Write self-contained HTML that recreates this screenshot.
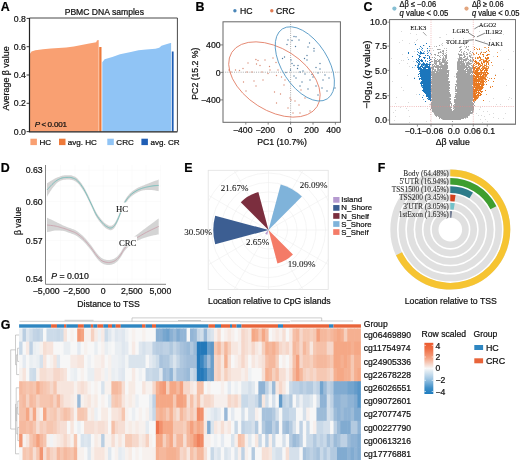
<!DOCTYPE html>
<html><head><meta charset="utf-8"><title>Figure</title>
<style>html,body{margin:0;padding:0;background:#fff;overflow:hidden}svg{display:block}text{stroke:#111;stroke-width:0.22px}</style></head>
<body><svg width="520" height="460" viewBox="0 0 520 460">
<defs><clipPath id="clipA"><rect x="0" y="0" width="180" height="160"/></clipPath><clipPath id="clipC"><rect x="389.6" y="19.6" width="125.9" height="104.6"/></clipPath></defs>
<rect width="520" height="460" fill="#fff"/>
<text x="0.70" y="10.80" font-size="12.4" text-anchor="start" font-family="'Liberation Sans', Arial, sans-serif" fill="#000" font-weight="bold" >A</text>
<g clip-path="url(#clipA)">
<text x="104.30" y="15.20" font-size="8.6" text-anchor="middle" font-family="'Liberation Sans', Arial, sans-serif" fill="#111" font-weight="normal" >PBMC DNA samples</text>
<polygon points="29.50,131.60 29.50,54.50 30.00,53.80 31.50,51.50 35.40,50.30 43.00,49.20 50.80,48.50 66.20,47.40 73.80,46.60 81.50,44.90 89.20,43.50 96.20,42.30 96.90,40.50 98.20,40.00 98.70,40.30 98.70,131.60" fill="#F9A072" />
<rect x="99.2" y="47" width="2.3" height="84.6" fill="#EE7A3A"/>
<polygon points="102.30,131.60 102.30,62.30 104.60,59.20 112.30,56.90 120.00,54.30 130.80,52.00 138.50,50.30 146.20,49.50 155.40,48.80 159.20,47.70 161.50,45.80 166.20,44.20 170.50,43.10 171.10,43.10 171.10,131.60" fill="#90C4F5" />
<rect x="171.8" y="51.5" width="1.8" height="80.1" fill="#1F5EB5"/>
<path d="M29.5,18.0 H177.4 V131.6" fill="none" stroke="#333" stroke-width="0.9"/>
<path d="M29.5,18.0 V131.9 H177.4" fill="none" stroke="#222" stroke-width="1.2"/>
<line x1="26.6" y1="131.60" x2="29.5" y2="131.60" stroke="#222" stroke-width="0.9"/>
<text x="25.90" y="134.70" font-size="8.7" text-anchor="end" font-family="'Liberation Sans', Arial, sans-serif" fill="#111" font-weight="normal" >0.0</text>
<line x1="26.6" y1="103.30" x2="29.5" y2="103.30" stroke="#222" stroke-width="0.9"/>
<text x="25.90" y="106.40" font-size="8.7" text-anchor="end" font-family="'Liberation Sans', Arial, sans-serif" fill="#111" font-weight="normal" >0.2</text>
<line x1="26.6" y1="75.00" x2="29.5" y2="75.00" stroke="#222" stroke-width="0.9"/>
<text x="25.90" y="78.10" font-size="8.7" text-anchor="end" font-family="'Liberation Sans', Arial, sans-serif" fill="#111" font-weight="normal" >0.4</text>
<line x1="26.6" y1="46.70" x2="29.5" y2="46.70" stroke="#222" stroke-width="0.9"/>
<text x="25.90" y="49.80" font-size="8.7" text-anchor="end" font-family="'Liberation Sans', Arial, sans-serif" fill="#111" font-weight="normal" >0.6</text>
<line x1="26.6" y1="18.40" x2="29.5" y2="18.40" stroke="#222" stroke-width="0.9"/>
<text x="25.90" y="21.50" font-size="8.7" text-anchor="end" font-family="'Liberation Sans', Arial, sans-serif" fill="#111" font-weight="normal" >0.8</text>
<text transform="translate(9.3,78.5) rotate(-90)" font-size="8.9" text-anchor="middle" font-family="'Liberation Sans', Arial, sans-serif" fill="#111">Average β value</text>
<text x="34.7" y="127.2" font-size="8.1" font-family="'Liberation Sans', Arial, sans-serif" fill="#111" letter-spacing="-0.15"><tspan font-style="italic">P</tspan>&#8201;&lt;&#8201;0.001</text>
<rect x="30.4" y="138.7" width="6.5" height="6.4" fill="#F9A072"/>
<text x="39.40" y="144.60" font-size="8.1" text-anchor="start" font-family="'Liberation Sans', Arial, sans-serif" fill="#111" font-weight="normal" >HC</text>
<rect x="59" y="138.7" width="6.5" height="6.4" fill="#EE7A3A"/>
<text x="67.70" y="144.60" font-size="8.1" text-anchor="start" font-family="'Liberation Sans', Arial, sans-serif" fill="#111" font-weight="normal" >avg. HC</text>
<rect x="107.3" y="138.7" width="6.5" height="6.4" fill="#90C4F5"/>
<text x="116.30" y="144.60" font-size="8.1" text-anchor="start" font-family="'Liberation Sans', Arial, sans-serif" fill="#111" font-weight="normal" >CRC</text>
<rect x="141.4" y="138.7" width="6.5" height="6.4" fill="#1F5EB5"/>
<text x="150.40" y="144.60" font-size="8.1" text-anchor="start" font-family="'Liberation Sans', Arial, sans-serif" fill="#111" font-weight="normal" >avg. CRC</text>
</g>
<text x="195.50" y="10.80" font-size="12.4" text-anchor="start" font-family="'Liberation Sans', Arial, sans-serif" fill="#000" font-weight="bold" >B</text>
<circle cx="234.9" cy="10.8" r="1.7" fill="#4A86B8"/>
<text x="240.00" y="13.90" font-size="8.7" text-anchor="start" font-family="'Liberation Sans', Arial, sans-serif" fill="#111" font-weight="normal" >HC</text>
<circle cx="271.8" cy="10.8" r="1.7" fill="#E07B54"/>
<text x="276.00" y="13.90" font-size="8.7" text-anchor="start" font-family="'Liberation Sans', Arial, sans-serif" fill="#111" font-weight="normal" >CRC</text>
<rect x="223.0" y="21.8" width="117.39999999999998" height="100.5" fill="#fff" stroke="#666" stroke-width="1"/>
<line x1="223.0" y1="72.2" x2="340.4" y2="72.2" stroke="#888" stroke-width="0.7" stroke-dasharray="1,1.2"/>
<line x1="290.6" y1="21.8" x2="290.6" y2="122.3" stroke="#888" stroke-width="0.7" stroke-dasharray="1,1.2"/>
<circle cx="294" cy="36.5" r="0.7" fill="#4F7A9E"/>
<circle cx="296" cy="36.7" r="0.7" fill="#4F7A9E"/>
<circle cx="299" cy="40" r="0.7" fill="#4F7A9E"/>
<circle cx="292" cy="40.5" r="0.7" fill="#4F7A9E"/>
<circle cx="288" cy="40" r="0.7" fill="#4F7A9E"/>
<circle cx="287" cy="44.5" r="0.7" fill="#4F7A9E"/>
<circle cx="295.5" cy="46.5" r="0.7" fill="#4F7A9E"/>
<circle cx="309.5" cy="43" r="0.7" fill="#4F7A9E"/>
<circle cx="308" cy="47" r="0.7" fill="#4F7A9E"/>
<circle cx="314" cy="48.5" r="0.7" fill="#4F7A9E"/>
<circle cx="314" cy="51" r="0.7" fill="#4F7A9E"/>
<circle cx="307" cy="55.5" r="0.7" fill="#4F7A9E"/>
<circle cx="304.5" cy="58.5" r="0.7" fill="#4F7A9E"/>
<circle cx="307" cy="60" r="0.7" fill="#4F7A9E"/>
<circle cx="291" cy="60" r="0.7" fill="#4F7A9E"/>
<circle cx="292" cy="63.5" r="0.7" fill="#4F7A9E"/>
<circle cx="284.5" cy="57" r="0.7" fill="#4F7A9E"/>
<circle cx="282.5" cy="58.5" r="0.7" fill="#4F7A9E"/>
<circle cx="294" cy="65.5" r="0.7" fill="#4F7A9E"/>
<circle cx="298" cy="65.5" r="0.7" fill="#4F7A9E"/>
<circle cx="297.5" cy="68.5" r="0.7" fill="#4F7A9E"/>
<circle cx="320" cy="63.5" r="0.7" fill="#4F7A9E"/>
<circle cx="316" cy="67.5" r="0.7" fill="#4F7A9E"/>
<circle cx="300" cy="72" r="0.7" fill="#4F7A9E"/>
<circle cx="305" cy="74" r="0.7" fill="#4F7A9E"/>
<circle cx="312" cy="74.5" r="0.7" fill="#4F7A9E"/>
<circle cx="318" cy="73" r="0.7" fill="#4F7A9E"/>
<circle cx="325" cy="75" r="0.7" fill="#4F7A9E"/>
<circle cx="329" cy="78" r="0.7" fill="#4F7A9E"/>
<circle cx="323" cy="80" r="0.7" fill="#4F7A9E"/>
<circle cx="310" cy="80" r="0.7" fill="#4F7A9E"/>
<circle cx="302" cy="82" r="0.7" fill="#4F7A9E"/>
<circle cx="296" cy="78" r="0.7" fill="#4F7A9E"/>
<circle cx="294" cy="76" r="0.7" fill="#4F7A9E"/>
<circle cx="316" cy="86" r="0.7" fill="#4F7A9E"/>
<circle cx="322" cy="88" r="0.7" fill="#4F7A9E"/>
<circle cx="327" cy="91" r="0.7" fill="#4F7A9E"/>
<circle cx="335" cy="88" r="0.7" fill="#4F7A9E"/>
<circle cx="308" cy="89" r="0.7" fill="#4F7A9E"/>
<circle cx="290.5" cy="70" r="0.7" fill="#4F7A9E"/>
<circle cx="286" cy="72.5" r="0.7" fill="#4F7A9E"/>
<circle cx="300" cy="86" r="0.7" fill="#4F7A9E"/>
<circle cx="318" cy="95" r="0.7" fill="#4F7A9E"/>
<circle cx="313" cy="77" r="0.7" fill="#4F7A9E"/>
<circle cx="320" cy="69" r="0.7" fill="#4F7A9E"/>
<circle cx="303" cy="71" r="0.7" fill="#4F7A9E"/>
<circle cx="255.9" cy="59.5" r="0.7" fill="#D98A74"/>
<circle cx="258" cy="60.5" r="0.7" fill="#D98A74"/>
<circle cx="248" cy="63" r="0.7" fill="#D98A74"/>
<circle cx="256.5" cy="64" r="0.7" fill="#D98A74"/>
<circle cx="260" cy="65.5" r="0.7" fill="#D98A74"/>
<circle cx="243" cy="68.5" r="0.7" fill="#D98A74"/>
<circle cx="235.5" cy="70" r="0.7" fill="#D98A74"/>
<circle cx="239.5" cy="70.5" r="0.7" fill="#D98A74"/>
<circle cx="269.5" cy="66.5" r="0.7" fill="#D98A74"/>
<circle cx="270" cy="70" r="0.7" fill="#D98A74"/>
<circle cx="276" cy="62.5" r="0.7" fill="#D98A74"/>
<circle cx="243.5" cy="82" r="0.7" fill="#D98A74"/>
<circle cx="254" cy="81" r="0.7" fill="#D98A74"/>
<circle cx="263" cy="80" r="0.7" fill="#D98A74"/>
<circle cx="256" cy="86" r="0.7" fill="#D98A74"/>
<circle cx="246" cy="91" r="0.7" fill="#D98A74"/>
<circle cx="274.5" cy="92" r="0.7" fill="#D98A74"/>
<circle cx="280.5" cy="94" r="0.7" fill="#D98A74"/>
<circle cx="276.5" cy="103" r="0.7" fill="#D98A74"/>
<circle cx="268" cy="73.5" r="0.7" fill="#D98A74"/>
<circle cx="276.5" cy="75.5" r="0.7" fill="#D98A74"/>
<circle cx="281.5" cy="77" r="0.7" fill="#D98A74"/>
<circle cx="290" cy="98" r="0.7" fill="#D98A74"/>
<circle cx="291" cy="100" r="0.7" fill="#D98A74"/>
<circle cx="295" cy="101" r="0.7" fill="#D98A74"/>
<circle cx="299" cy="105" r="0.7" fill="#D98A74"/>
<circle cx="300" cy="113" r="0.7" fill="#D98A74"/>
<circle cx="293" cy="113" r="0.7" fill="#D98A74"/>
<circle cx="310" cy="111" r="0.7" fill="#D98A74"/>
<circle cx="288" cy="108" r="0.7" fill="#D98A74"/>
<circle cx="305" cy="98" r="0.7" fill="#D98A74"/>
<circle cx="284" cy="85" r="0.7" fill="#D98A74"/>
<circle cx="285" cy="80" r="0.7" fill="#D98A74"/>
<circle cx="262" cy="72" r="0.7" fill="#D98A74"/>
<circle cx="252" cy="72" r="0.7" fill="#D98A74"/>
<circle cx="247" cy="72" r="0.7" fill="#D98A74"/>
<circle cx="231" cy="72" r="0.7" fill="#D98A74"/>
<circle cx="229" cy="70" r="0.7" fill="#D98A74"/>
<circle cx="278" cy="70" r="0.7" fill="#D98A74"/>
<circle cx="273" cy="58" r="0.7" fill="#D98A74"/>
<circle cx="265" cy="60" r="0.7" fill="#D98A74"/>
<circle cx="301" cy="90" r="0.7" fill="#D98A74"/>
<ellipse cx="274.43" cy="79.48" rx="50.52" ry="30.95" transform="rotate(32.48 274.43 79.48)" fill="none" stroke="#E27B62" stroke-width="0.8"/>
<ellipse cx="304.82" cy="63.89" rx="41.56" ry="22.99" transform="rotate(57.35 304.82 63.89)" fill="none" stroke="#4D94C2" stroke-width="0.8"/>
<line x1="245.80" y1="122.3" x2="245.80" y2="124.6" stroke="#666" stroke-width="0.8"/>
<text x="242.70" y="133.40" font-size="8.7" text-anchor="middle" font-family="'Liberation Sans', Arial, sans-serif" fill="#111" font-weight="normal" >−400</text>
<line x1="268.20" y1="122.3" x2="268.20" y2="124.6" stroke="#666" stroke-width="0.8"/>
<text x="265.20" y="133.40" font-size="8.7" text-anchor="middle" font-family="'Liberation Sans', Arial, sans-serif" fill="#111" font-weight="normal" >−200</text>
<line x1="290.60" y1="122.3" x2="290.60" y2="124.6" stroke="#666" stroke-width="0.8"/>
<text x="289.90" y="133.40" font-size="8.7" text-anchor="middle" font-family="'Liberation Sans', Arial, sans-serif" fill="#111" font-weight="normal" >0</text>
<line x1="313.00" y1="122.3" x2="313.00" y2="124.6" stroke="#666" stroke-width="0.8"/>
<text x="311.60" y="133.40" font-size="8.7" text-anchor="middle" font-family="'Liberation Sans', Arial, sans-serif" fill="#111" font-weight="normal" >200</text>
<line x1="335.40" y1="122.3" x2="335.40" y2="124.6" stroke="#666" stroke-width="0.8"/>
<text x="333.50" y="133.40" font-size="8.7" text-anchor="middle" font-family="'Liberation Sans', Arial, sans-serif" fill="#111" font-weight="normal" >400</text>
<line x1="220.7" y1="99.90" x2="223.0" y2="99.90" stroke="#666" stroke-width="0.8"/>
<text x="220.60" y="103.00" font-size="8.7" text-anchor="end" font-family="'Liberation Sans', Arial, sans-serif" fill="#111" font-weight="normal" >−400</text>
<line x1="220.7" y1="72.40" x2="223.0" y2="72.40" stroke="#666" stroke-width="0.8"/>
<text x="220.60" y="75.50" font-size="8.7" text-anchor="end" font-family="'Liberation Sans', Arial, sans-serif" fill="#111" font-weight="normal" >0</text>
<line x1="220.7" y1="44.90" x2="223.0" y2="44.90" stroke="#666" stroke-width="0.8"/>
<text x="220.60" y="48.00" font-size="8.7" text-anchor="end" font-family="'Liberation Sans', Arial, sans-serif" fill="#111" font-weight="normal" >400</text>
<text x="282.00" y="145.30" font-size="8.7" text-anchor="middle" font-family="'Liberation Sans', Arial, sans-serif" fill="#111" font-weight="normal" >PC1 (10.7%)</text>
<text transform="translate(198.4,73.6) rotate(-90)" font-size="8.7" text-anchor="middle" font-family="'Liberation Sans', Arial, sans-serif" fill="#111">PC2 (15.2 %)</text>
<text x="363.50" y="10.80" font-size="12.4" text-anchor="start" font-family="'Liberation Sans', Arial, sans-serif" fill="#000" font-weight="bold" >C</text>
<circle cx="394.4" cy="8.6" r="2.1" fill="#86BFD3"/>
<text x="399.6" y="6.9" font-size="8.3" font-family="'Liberation Sans', Arial, sans-serif" fill="#111" textLength="36.6" lengthAdjust="spacingAndGlyphs">Δβ ≤ −0.06</text>
<text x="399.6" y="15.6" font-size="8.3" font-family="'Liberation Sans', Arial, sans-serif" fill="#111" textLength="48.7" lengthAdjust="spacingAndGlyphs"><tspan font-style="italic">q</tspan> value &lt; 0.05</text>
<circle cx="466.5" cy="8.6" r="2.1" fill="#E2A57E"/>
<text x="471.9" y="6.9" font-size="8.3" font-family="'Liberation Sans', Arial, sans-serif" fill="#111" textLength="31.6" lengthAdjust="spacingAndGlyphs">Δβ ≥ 0.06</text>
<text x="471.9" y="15.6" font-size="8.3" font-family="'Liberation Sans', Arial, sans-serif" fill="#111" textLength="47.5" lengthAdjust="spacingAndGlyphs"><tspan font-style="italic">q</tspan> value &lt; 0.05</text>
<rect x="389.6" y="19.6" width="125.89999999999998" height="104.6" fill="#fff" stroke="#777" stroke-width="0.9"/>
<g clip-path="url(#clipC)">
<path d="M401 31.5h1M479 31.5h1M501 31.5h1M410 33.5h1M416 34.5h1M446 34.5h1M503 34.5h1M439 37.5h2M473 37.5h1M453 38.5h1M463 38.5h1M417 39.5h1M490 39.5h1M402 40.5h1M416 40.5h1M460 40.5h1M450 41.5h1M484 41.5h1M399 42.5h1M414 42.5h1M409 43.5h1M441 44.5h1M424 45.5h1M429 48.5h2M432 48.5h1M486 48.5h1M481 49.5h1M500 50.5h1M414 51.5h1M429 51.5h1M481 51.5h1M513 51.5h1M480 52.5h1M402 54.5h1M493 56.5h1M407 57.5h1M391 58.5h1M457 58.5h1M508 59.5h1M401 60.5h1M403 60.5h1M413 61.5h1M479 61.5h1M416 62.5h1M399 63.5h1M407 63.5h1M484 63.5h1M489 65.5h1M409 66.5h1M477 66.5h1M414 67.5h1M503 69.5h1M449 70.5h1M495 74.5h1M407 75.5h1M454 76.5h1M414 77.5h1M392 81.5h1M506 85.5h1M401 87.5h1M403 90.5h1M416 94.5h1M455 94.5h1M396 97.5h1M509 97.5h1M493 98.5h1M511 98.5h1M508 99.5h1M489 101.5h1M408 102.5h1M395 103.5h1M429 104.5h1M496 104.5h1M500 104.5h1M420 106.5h1M400 107.5h1M480 107.5h1M406 108.5h1M427 108.5h1M479 109.5h1M395 110.5h1M408 110.5h1M483 111.5h1M487 111.5h1M393 112.5h1M476 113.5h1M493 113.5h1M505 113.5h1M430 114.5h1M489 114.5h1M478 115.5h1M481 115.5h1M395 116.5h1M409 116.5h1M484 116.5h1M493 117.5h1M498 118.5h1M503 118.5h1M480 119.5h1M485 119.5h1M394 120.5h1M430 120.5h1M426 121.5h1M487 121.5h1M409 122.5h1M482 122.5h1M406 123.5h1M473 123.5h1M483 123.5h1" stroke="#DADADA" stroke-width="1" fill="none"/>
<path d="M442 43.5h1M442 45.5h1M434 46.5h1M460 46.5h2M464 46.5h1M444 48.5h1M446 48.5h1M465 48.5h1M440 49.5h1M460 49.5h1M468 49.5h1M433 50.5h1M442 50.5h1M468 50.5h1M461 51.5h1M439 52.5h1M441 52.5h1M443 52.5h1M446 52.5h1M463 52.5h1M469 52.5h1M445 53.5h1M458 53.5h1M464 53.5h1M467 53.5h1M469 53.5h2M464 54.5h1M471 54.5h1M435 55.5h1M440 55.5h1M462 55.5h1M470 55.5h2M443 56.5h1M467 56.5h1M471 57.5h1M442 58.5h1M444 58.5h2M458 58.5h1M462 58.5h1M465 58.5h1M444 59.5h1M462 59.5h1M467 59.5h1M472 59.5h1M471 60.5h2M440 61.5h1M445 61.5h1M457 61.5h1M465 61.5h1M471 61.5h1M435 62.5h1M440 62.5h1M462 62.5h1M465 62.5h2M469 62.5h1M472 62.5h1M444 63.5h1M436 64.5h1M442 64.5h1M460 64.5h1M468 64.5h1M470 64.5h1M440 65.5h1M465 65.5h1M472 65.5h1M432 66.5h1M471 67.5h1M431 68.5h1M434 69.5h1M431 71.5h1M438 71.5h1M457 71.5h1M431 73.5h1M456 75.5h1M448 79.5h1M431 80.5h1M456 80.5h1M456 82.5h1M456 86.5h1M431 87.5h1M455 90.5h1M431 92.5h1M431 93.5h1M449 97.5h1M430 104.5h1M454 105.5h1M450 106.5h1M453 106.5h1M453 107.5h1M454 108.5h1M473 110.5h1M473 111.5h1M433 112.5h1M472 113.5h1M434 114.5h1M469 115.5h1M466 117.5h1M465 118.5h1M442 119.5h1" stroke="#C4C4C4" stroke-width="1" fill="none"/>
<path d="M446 42.5h1M461 43.5h1M463 43.5h1M464 44.5h1M439 45.5h1M436 46.5h1M466 46.5h1M468 46.5h1M459 47.5h2M466 47.5h1M437 49.5h3M461 49.5h1M467 49.5h1M443 50.5h1M446 50.5h1M460 50.5h1M440 51.5h1M442 51.5h2M459 51.5h1M464 51.5h1M470 51.5h1M438 52.5h1M440 52.5h1M461 52.5h1M466 52.5h1M472 52.5h1M438 53.5h1M442 53.5h2M463 53.5h1M431 54.5h1M434 54.5h2M443 54.5h1M446 54.5h1M458 54.5h4M463 54.5h1M466 54.5h2M437 55.5h2M442 55.5h1M444 55.5h3M459 55.5h3M464 55.5h1M469 55.5h1M439 56.5h1M445 56.5h2M459 56.5h1M464 56.5h2M469 56.5h2M432 57.5h1M434 57.5h1M440 57.5h1M443 57.5h1M445 57.5h2M459 57.5h3M463 57.5h2M467 57.5h1M470 57.5h1M472 57.5h1M435 58.5h1M443 58.5h1M446 58.5h1M459 58.5h3M466 58.5h2M472 58.5h1M431 59.5h1M434 59.5h1M437 59.5h1M439 59.5h2M442 59.5h2M445 59.5h1M458 59.5h4M463 59.5h4M468 59.5h1M470 59.5h1M434 60.5h3M438 60.5h2M442 60.5h4M447 60.5h1M458 60.5h2M461 60.5h1M463 60.5h4M469 60.5h2M431 61.5h2M434 61.5h6M442 61.5h3M446 61.5h1M458 61.5h6M468 61.5h1M470 61.5h1M472 61.5h1M434 62.5h1M436 62.5h1M439 62.5h1M441 62.5h7M457 62.5h5M463 62.5h1M467 62.5h2M434 63.5h3M439 63.5h3M445 63.5h3M457 63.5h8M466 63.5h6M432 64.5h2M435 64.5h1M439 64.5h3M444 64.5h3M457 64.5h3M461 64.5h4M466 64.5h2M469 64.5h1M432 65.5h1M434 65.5h1M436 65.5h3M441 65.5h7M457 65.5h8M466 65.5h3M471 65.5h1M433 66.5h15M457 66.5h10M468 66.5h2M472 66.5h1M431 67.5h3M435 67.5h13M457 67.5h14M472 67.5h1M432 68.5h2M437 68.5h2M440 68.5h1M442 68.5h6M457 68.5h8M466 68.5h2M469 68.5h4M432 69.5h2M435 69.5h1M437 69.5h10M457 69.5h7M465 69.5h7M432 70.5h1M434 70.5h2M437 70.5h12M458 70.5h8M467 70.5h5M432 71.5h6M439 71.5h10M458 71.5h15M431 72.5h4M436 72.5h13M457 72.5h9M467 72.5h6M432 73.5h15M448 73.5h1M456 73.5h15M472 73.5h1M431 74.5h18M456 74.5h14M471 74.5h1M431 75.5h18M457 75.5h16M432 76.5h17M456 76.5h17M431 77.5h17M456 77.5h17M432 78.5h17M457 78.5h16M431 79.5h17M457 79.5h16M432 80.5h16M457 80.5h16M431 81.5h19M456 81.5h17M431 82.5h19M457 82.5h16M431 83.5h18M457 83.5h16M432 84.5h18M455 84.5h18M431 85.5h19M456 85.5h16M431 86.5h18M455 86.5h1M457 86.5h16M432 87.5h18M455 87.5h1M457 87.5h16M431 88.5h19M455 88.5h1M457 88.5h16M431 89.5h18M455 89.5h18M431 90.5h19M456 90.5h17M431 91.5h18M455 91.5h18M432 92.5h18M457 92.5h16M432 93.5h18M455 93.5h18M431 94.5h20M456 94.5h17M431 95.5h20M455 95.5h18M431 96.5h20M455 96.5h18M431 97.5h18M454 97.5h19M432 98.5h19M456 98.5h17M431 99.5h20M454 99.5h19M431 100.5h19M454 100.5h19M432 101.5h19M454 101.5h18M474 101.5h1M431 102.5h20M454 102.5h19M474 102.5h1M431 103.5h21M455 103.5h19M431 104.5h19M451 104.5h1M454 104.5h20M431 105.5h19M451 105.5h1M453 105.5h1M455 105.5h18M474 105.5h1M431 106.5h19M454 106.5h20M431 107.5h21M454 107.5h20M431 108.5h20M453 108.5h1M455 108.5h19M430 109.5h1M432 109.5h20M454 109.5h20M432 110.5h20M453 110.5h20M432 111.5h39M472 111.5h1M434 112.5h39M434 113.5h38M435 114.5h35M435 115.5h34M436 116.5h1M438 116.5h30M439 117.5h27M467 117.5h1M439 118.5h1M441 118.5h23M443 119.5h18M452 121.5h1" stroke="#A2A2A2" stroke-width="1" fill="none"/>
<path d="M421 47.5h1M419 48.5h1M421 49.5h1M422 50.5h1M427 50.5h1M417 51.5h1M424 51.5h1M427 51.5h1M423 52.5h1M428 52.5h1M419 53.5h1M424 53.5h1M430 53.5h1M420 54.5h1M418 55.5h1M428 55.5h1M425 57.5h1M408 59.5h1M418 59.5h1M425 61.5h1M429 62.5h1M419 63.5h2M422 63.5h1M427 63.5h1M429 63.5h1M417 65.5h1M422 65.5h1M424 65.5h1M417 66.5h1M424 66.5h1M412 67.5h1M430 67.5h1M419 69.5h1M420 82.5h1M421 86.5h2M419 94.5h1M423 95.5h1M428 98.5h1M423 99.5h1" stroke="#6FAEDB" stroke-width="1" fill="none"/>
<path d="M426 43.5h1M415 44.5h1M423 45.5h1M420 46.5h1M429 46.5h1M422 48.5h1M427 48.5h1M417 49.5h1M429 50.5h1M420 51.5h1M408 52.5h1M418 52.5h1M420 52.5h2M408 53.5h1M420 53.5h4M427 53.5h1M417 54.5h1M419 55.5h1M425 55.5h1M427 55.5h1M412 56.5h1M419 56.5h2M429 56.5h1M419 57.5h1M423 57.5h2M429 57.5h1M418 58.5h1M424 58.5h1M427 58.5h1M429 58.5h1M416 59.5h1M419 59.5h1M421 59.5h1M430 59.5h1M417 60.5h2M420 60.5h3M425 60.5h1M429 60.5h1M416 61.5h1M418 61.5h2M421 61.5h2M427 61.5h1M417 62.5h1M419 62.5h1M423 62.5h1M430 62.5h1M418 63.5h1M423 63.5h2M426 63.5h1M418 64.5h2M421 64.5h10M415 65.5h1M418 65.5h1M421 65.5h1M423 65.5h1M425 65.5h3M429 65.5h1M418 66.5h1M420 66.5h3M425 66.5h5M417 67.5h4M422 67.5h8M418 68.5h4M423 68.5h3M428 68.5h3M418 69.5h1M420 69.5h11M420 70.5h11M419 71.5h12M420 72.5h11M419 73.5h12M418 74.5h1M420 74.5h11M420 75.5h11M418 76.5h1M420 76.5h11M421 77.5h10M414 78.5h1M419 78.5h12M419 79.5h1M421 79.5h10M422 80.5h9M421 81.5h10M421 82.5h10M420 83.5h11M421 84.5h1M423 84.5h8M421 85.5h10M423 86.5h8M422 87.5h9M423 88.5h8M423 89.5h8M422 90.5h9M423 91.5h8M424 92.5h7M425 93.5h6M426 94.5h5M426 95.5h5M426 96.5h5M422 97.5h1M428 97.5h3M427 98.5h1M429 98.5h2M428 99.5h3M430 100.5h1M425 101.5h1" stroke="#1B76BC" stroke-width="1" fill="none"/>
<path d="M484 47.5h2M476 48.5h1M479 48.5h1M488 49.5h1M489 51.5h1M476 52.5h1M483 52.5h2M497 52.5h1M473 54.5h2M480 54.5h1M489 54.5h1M483 55.5h1M475 57.5h1M478 57.5h1M478 58.5h1M480 59.5h1M482 59.5h2M487 59.5h1M484 60.5h1M488 60.5h1M481 61.5h1M488 61.5h1M477 62.5h1M486 62.5h1M488 62.5h1M475 64.5h2M480 64.5h1M484 64.5h1M474 65.5h1M482 65.5h1M486 65.5h1M492 65.5h1M475 66.5h1M482 66.5h1M484 66.5h1M487 66.5h2M477 67.5h1M483 67.5h1M485 67.5h2M475 68.5h1M482 68.5h1M488 68.5h1M478 69.5h2M487 69.5h1M474 70.5h1M474 71.5h1M480 71.5h1M480 73.5h1M482 73.5h1M484 73.5h1M473 74.5h1M487 74.5h1M484 75.5h1M484 76.5h1M486 76.5h1M474 77.5h1M479 77.5h1M485 77.5h1M487 77.5h1M489 78.5h1M483 79.5h2M480 80.5h1M485 80.5h1M475 82.5h1M485 82.5h1M481 83.5h1M484 84.5h1M473 86.5h1M475 86.5h1M490 86.5h1M483 87.5h1M478 89.5h1M475 92.5h1M486 94.5h1M477 96.5h1M478 97.5h1M476 99.5h1M474 100.5h1" stroke="#F0A868" stroke-width="1" fill="none"/>
<path d="M474 47.5h1M488 47.5h1M474 49.5h1M477 49.5h1M479 49.5h1M488 50.5h1M486 51.5h1M481 52.5h1M485 52.5h1M473 53.5h1M476 53.5h1M480 53.5h1M478 54.5h1M482 54.5h2M487 54.5h2M486 55.5h2M479 56.5h1M483 56.5h1M497 56.5h1M477 57.5h1M479 57.5h2M485 57.5h1M487 57.5h2M475 58.5h1M477 58.5h1M480 58.5h1M485 58.5h4M473 59.5h1M481 59.5h1M486 59.5h1M473 60.5h1M475 60.5h1M479 60.5h2M483 60.5h1M485 60.5h2M489 60.5h1M474 61.5h3M483 61.5h5M475 62.5h2M478 62.5h1M481 62.5h1M483 62.5h2M487 62.5h1M491 62.5h1M474 63.5h1M476 63.5h4M481 63.5h2M486 63.5h1M488 63.5h1M473 64.5h1M478 64.5h2M482 64.5h1M486 64.5h1M488 64.5h1M473 65.5h1M478 65.5h1M480 65.5h2M484 65.5h2M473 66.5h1M476 66.5h1M479 66.5h2M483 66.5h1M486 66.5h1M473 67.5h3M478 67.5h2M482 67.5h1M484 67.5h1M488 67.5h1M473 68.5h2M476 68.5h4M481 68.5h1M483 68.5h5M473 69.5h2M476 69.5h2M480 69.5h1M482 69.5h2M485 69.5h2M473 70.5h1M475 70.5h4M480 70.5h3M484 70.5h4M473 71.5h1M475 71.5h3M481 71.5h1M484 71.5h1M486 71.5h1M473 72.5h15M474 73.5h6M481 73.5h1M483 73.5h1M485 73.5h1M487 73.5h2M475 74.5h7M483 74.5h4M473 75.5h2M476 75.5h3M480 75.5h1M482 75.5h2M485 75.5h2M495 75.5h1M473 76.5h11M485 76.5h1M473 77.5h1M475 77.5h4M480 77.5h5M473 78.5h4M478 78.5h8M491 78.5h1M494 78.5h1M473 79.5h10M485 79.5h2M473 80.5h7M481 80.5h3M488 80.5h1M473 81.5h12M486 81.5h1M493 81.5h1M473 82.5h2M476 82.5h1M478 82.5h1M480 82.5h4M473 83.5h8M482 83.5h2M473 84.5h11M486 84.5h1M473 85.5h7M481 85.5h3M474 86.5h1M476 86.5h7M492 86.5h1M473 87.5h10M490 87.5h1M473 88.5h1M475 88.5h8M473 89.5h5M479 89.5h3M473 90.5h8M485 90.5h1M473 91.5h4M478 91.5h1M480 91.5h3M473 92.5h2M476 92.5h4M481 92.5h1M473 93.5h4M478 93.5h3M473 94.5h3M477 94.5h2M480 94.5h2M473 95.5h8M473 96.5h4M478 96.5h1M473 97.5h5M474 98.5h4M473 99.5h3M473 100.5h1M475 100.5h1M483 100.5h1M473 101.5h1" stroke="#E8781F" stroke-width="1" fill="none"/>
</g>
<line x1="431" y1="19.6" x2="431" y2="124.2" stroke="#E58A8A" stroke-width="0.6" stroke-dasharray="0.9,1.3"/>
<line x1="473.3" y1="19.6" x2="473.3" y2="124.2" stroke="#E58A8A" stroke-width="0.6" stroke-dasharray="0.9,1.3"/>
<line x1="389.6" y1="106.5" x2="515.5" y2="106.5" stroke="#E58A8A" stroke-width="0.6" stroke-dasharray="0.9,1.3"/>
<rect x="389.6" y="19.6" width="125.89999999999998" height="104.6" fill="none" stroke="#777" stroke-width="0.9"/>
<text x="418.20" y="29.60" font-size="6.6" text-anchor="middle" font-family="'Liberation Serif', 'Times New Roman', serif" fill="#111" font-weight="normal" style="stroke-width:0.08px" >ELK3</text>
<line x1="423" y1="32.1" x2="426.4" y2="35.6" stroke="#444" stroke-width="0.5"/>
<text x="487.50" y="27.40" font-size="6.6" text-anchor="middle" font-family="'Liberation Serif', 'Times New Roman', serif" fill="#111" font-weight="normal" style="stroke-width:0.08px" >AGO2</text>
<text x="460.80" y="33.40" font-size="6.6" text-anchor="middle" font-family="'Liberation Serif', 'Times New Roman', serif" fill="#111" font-weight="normal" style="stroke-width:0.08px" >LGR5</text>
<text x="493.80" y="34.00" font-size="6.6" text-anchor="middle" font-family="'Liberation Serif', 'Times New Roman', serif" fill="#111" font-weight="normal" style="stroke-width:0.08px" >IL1R2</text>
<text x="457.30" y="43.90" font-size="6.6" text-anchor="middle" font-family="'Liberation Serif', 'Times New Roman', serif" fill="#111" font-weight="normal" style="stroke-width:0.08px" >TOLLIP</text>
<text x="495.60" y="45.60" font-size="6.6" text-anchor="middle" font-family="'Liberation Serif', 'Times New Roman', serif" fill="#111" font-weight="normal" style="stroke-width:0.08px" >JAK1</text>
<path d="M474.4,28.9 L478.8,26.2 M468.8,33.1 L475,36.9 M485,33.1 L476.9,36.9 M468.1,40.3 L473.8,39.8 M475,40 L488.6,44.4" stroke="#333" stroke-width="0.6" fill="none"/>
<line x1="387.3" y1="22.2" x2="389.6" y2="22.2" stroke="#777" stroke-width="0.8"/>
<text x="387.00" y="25.30" font-size="8.7" text-anchor="end" font-family="'Liberation Sans', Arial, sans-serif" fill="#111" font-weight="normal" >10.0</text>
<line x1="387.3" y1="46.1" x2="389.6" y2="46.1" stroke="#777" stroke-width="0.8"/>
<text x="387.00" y="49.20" font-size="8.7" text-anchor="end" font-family="'Liberation Sans', Arial, sans-serif" fill="#111" font-weight="normal" >7.5</text>
<line x1="387.3" y1="70.4" x2="389.6" y2="70.4" stroke="#777" stroke-width="0.8"/>
<text x="387.00" y="73.50" font-size="8.7" text-anchor="end" font-family="'Liberation Sans', Arial, sans-serif" fill="#111" font-weight="normal" >5.0</text>
<line x1="387.3" y1="95.7" x2="389.6" y2="95.7" stroke="#777" stroke-width="0.8"/>
<text x="387.00" y="98.80" font-size="8.7" text-anchor="end" font-family="'Liberation Sans', Arial, sans-serif" fill="#111" font-weight="normal" >2.5</text>
<line x1="387.3" y1="120" x2="389.6" y2="120" stroke="#777" stroke-width="0.8"/>
<text x="387.00" y="123.10" font-size="8.7" text-anchor="end" font-family="'Liberation Sans', Arial, sans-serif" fill="#111" font-weight="normal" >0.0</text>
<line x1="417.4" y1="124.2" x2="417.4" y2="126.5" stroke="#777" stroke-width="0.8"/>
<text x="413.30" y="134.30" font-size="8.7" text-anchor="middle" font-family="'Liberation Sans', Arial, sans-serif" fill="#111" font-weight="normal" >−0.1</text>
<line x1="431" y1="124.2" x2="431" y2="126.5" stroke="#777" stroke-width="0.8"/>
<text x="432.30" y="134.30" font-size="8.7" text-anchor="middle" font-family="'Liberation Sans', Arial, sans-serif" fill="#111" font-weight="normal" >−0.06</text>
<line x1="452.3" y1="124.2" x2="452.3" y2="126.5" stroke="#777" stroke-width="0.8"/>
<text x="453.90" y="134.30" font-size="8.7" text-anchor="middle" font-family="'Liberation Sans', Arial, sans-serif" fill="#111" font-weight="normal" >0.0</text>
<line x1="473.3" y1="124.2" x2="473.3" y2="126.5" stroke="#777" stroke-width="0.8"/>
<text x="472.30" y="134.30" font-size="8.7" text-anchor="middle" font-family="'Liberation Sans', Arial, sans-serif" fill="#111" font-weight="normal" >0.06</text>
<line x1="487.3" y1="124.2" x2="487.3" y2="126.5" stroke="#777" stroke-width="0.8"/>
<text x="489.00" y="134.30" font-size="8.7" text-anchor="middle" font-family="'Liberation Sans', Arial, sans-serif" fill="#111" font-weight="normal" >0.1</text>
<text x="452.80" y="145.30" font-size="8.7" text-anchor="middle" font-family="'Liberation Sans', Arial, sans-serif" fill="#111" font-weight="normal" >Δβ value</text>
<text transform="translate(370.2,74.4) rotate(-90)" font-size="9.2" text-anchor="middle" font-family="'Liberation Sans', Arial, sans-serif" fill="#111" textLength="68" lengthAdjust="spacingAndGlyphs">−log<tspan font-size="6.6" dy="2">10</tspan><tspan dy="-2"> (</tspan><tspan font-style="italic">q</tspan> value)</text>
<text x="0.70" y="171.90" font-size="12.4" text-anchor="start" font-family="'Liberation Sans', Arial, sans-serif" fill="#000" font-weight="bold" >D</text>
<line x1="60.5" y1="165" x2="60.5" y2="283.7" stroke="#f6f6f6" stroke-width="0.5"/>
<line x1="75" y1="165" x2="75" y2="283.7" stroke="#f6f6f6" stroke-width="0.5"/>
<line x1="89" y1="165" x2="89" y2="283.7" stroke="#f6f6f6" stroke-width="0.5"/>
<line x1="103.3" y1="165" x2="103.3" y2="283.7" stroke="#f6f6f6" stroke-width="0.5"/>
<line x1="117.5" y1="165" x2="117.5" y2="283.7" stroke="#f6f6f6" stroke-width="0.5"/>
<line x1="132" y1="165" x2="132" y2="283.7" stroke="#f6f6f6" stroke-width="0.5"/>
<line x1="146" y1="165" x2="146" y2="283.7" stroke="#f6f6f6" stroke-width="0.5"/>
<line x1="160.4" y1="165" x2="160.4" y2="283.7" stroke="#f6f6f6" stroke-width="0.5"/>
<line x1="46" y1="170.3" x2="161" y2="170.3" stroke="#f6f6f6" stroke-width="0.5"/>
<line x1="46" y1="186" x2="161" y2="186" stroke="#f6f6f6" stroke-width="0.5"/>
<line x1="46" y1="201.6" x2="161" y2="201.6" stroke="#f6f6f6" stroke-width="0.5"/>
<line x1="46" y1="221" x2="161" y2="221" stroke="#f6f6f6" stroke-width="0.5"/>
<line x1="46" y1="240.6" x2="161" y2="240.6" stroke="#f6f6f6" stroke-width="0.5"/>
<line x1="46" y1="260" x2="161" y2="260" stroke="#f6f6f6" stroke-width="0.5"/>
<line x1="46" y1="279.2" x2="161" y2="279.2" stroke="#f6f6f6" stroke-width="0.5"/>
<polygon points="47.00,183.30 47.54,182.97 48.30,182.48 49.19,181.90 50.15,181.27 51.11,180.66 52.00,180.13 52.83,179.66 53.67,179.20 54.50,178.76 55.33,178.34 56.17,177.95 57.00,177.60 57.83,177.28 58.67,176.98 59.50,176.69 60.33,176.37 61.17,176.06 62.00,175.80 62.83,175.59 63.67,175.44 64.50,175.33 65.33,175.26 66.17,175.22 67.00,175.20 67.83,175.18 68.65,175.16 69.47,175.18 70.30,175.24 71.14,175.37 72.00,175.60 72.88,175.88 73.76,176.20 74.66,176.58 75.57,177.08 76.52,177.74 77.50,178.60 78.52,179.66 79.57,180.88 80.66,182.26 81.76,183.80 82.88,185.48 84.00,187.30 85.16,189.36 86.35,191.67 87.56,194.12 88.76,196.62 89.91,199.05 91.00,201.30 91.99,203.40 92.91,205.43 93.78,207.39 94.65,209.28 95.54,211.09 96.50,212.80 97.55,214.45 98.67,216.04 99.81,217.55 100.94,218.95 102.02,220.21 103.00,221.30 103.88,222.20 104.69,222.93 105.44,223.52 106.15,224.00 106.83,224.42 107.50,224.80 108.14,225.15 108.74,225.45 109.31,225.68 109.87,225.82 110.43,225.86 111.00,225.80 111.58,225.63 112.17,225.37 112.75,225.02 113.33,224.56 113.92,223.99 114.50,223.30 115.08,222.48 115.67,221.52 116.25,220.46 116.83,219.30 117.42,218.07 118.00,216.80 118.59,215.43 119.17,213.93 119.76,212.37 120.35,210.79 120.93,209.25 121.50,207.80 122.04,206.44 122.54,205.14 123.04,203.87 123.57,202.63 124.14,201.41 124.80,200.20 125.55,198.98 126.36,197.76 127.23,196.56 128.14,195.40 129.07,194.30 130.00,193.30 130.96,192.39 131.96,191.55 132.98,190.78 134.01,190.06 135.02,189.41 136.00,188.80 136.94,188.26 137.86,187.79 138.76,187.37 139.66,186.99 140.57,186.62 141.50,186.22 142.46,185.80 143.45,185.39 144.44,184.99 145.44,184.59 146.43,184.20 147.40,183.80 148.35,183.42 149.29,183.04 150.21,182.68 151.14,182.32 152.06,181.97 153.00,181.61 154.01,181.25 155.10,180.86 156.20,180.48 157.22,180.13 158.08,179.83 158.70,179.60 158.70,191.20 158.08,191.07 157.22,190.89 156.20,190.69 155.10,190.49 154.01,190.32 153.00,190.19 152.06,190.10 151.14,190.03 150.21,189.98 149.29,189.96 148.35,189.97 147.40,190.00 146.43,190.05 145.44,190.12 144.44,190.22 143.45,190.36 142.46,190.55 141.50,190.78 140.57,191.06 139.66,191.39 138.76,191.77 137.86,192.19 136.94,192.66 136.00,193.20 135.02,193.81 134.01,194.46 132.98,195.17 131.96,195.95 130.96,196.79 130.00,197.70 129.07,198.70 128.14,199.80 127.23,200.96 126.36,202.16 125.55,203.38 124.80,204.60 124.14,205.81 123.57,207.03 123.04,208.27 122.54,209.54 122.04,210.84 121.50,212.20 120.93,213.65 120.35,215.19 119.76,216.77 119.17,218.33 118.59,219.83 118.00,221.20 117.42,222.47 116.83,223.70 116.25,224.86 115.67,225.92 115.08,226.88 114.50,227.70 113.92,228.39 113.33,228.96 112.75,229.42 112.17,229.77 111.58,230.03 111.00,230.20 110.43,230.26 109.87,230.22 109.31,230.07 108.74,229.85 108.14,229.55 107.50,229.20 106.83,228.82 106.15,228.40 105.44,227.92 104.69,227.33 103.88,226.60 103.00,225.70 102.02,224.61 100.94,223.35 99.81,221.95 98.67,220.44 97.55,218.85 96.50,217.20 95.54,215.49 94.65,213.68 93.78,211.79 92.91,209.83 91.99,207.80 91.00,205.70 89.91,203.45 88.76,201.02 87.56,198.52 86.35,196.07 85.16,193.76 84.00,191.70 82.88,189.88 81.76,188.20 80.66,186.66 79.57,185.28 78.52,184.06 77.50,183.00 76.52,182.14 75.57,181.48 74.66,180.98 73.76,180.60 72.88,180.28 72.00,180.00 71.14,179.77 70.30,179.64 69.47,179.58 68.65,179.56 67.83,179.58 67.00,179.60 66.17,179.62 65.33,179.66 64.50,179.73 63.67,179.84 62.83,179.99 62.00,180.20 61.17,180.46 60.33,180.77 59.50,181.16 58.67,181.68 57.83,182.29 57.00,183.00 56.17,183.80 55.33,184.68 54.50,185.64 53.67,186.66 52.83,187.74 52.00,188.87 51.11,190.15 50.15,191.61 49.19,193.13 48.30,194.57 47.54,195.81 47.00,196.70" fill="#CDCDCD" opacity="0.85"/>
<polygon points="47.00,217.70 47.87,218.12 49.09,218.69 50.52,219.35 52.07,220.04 53.60,220.73 55.00,221.39 56.29,222.02 57.57,222.65 58.84,223.29 60.10,223.92 61.35,224.54 62.60,225.14 63.85,225.71 65.11,226.26 66.36,226.74 67.59,227.19 68.81,227.64 70.00,228.10 71.15,228.53 72.26,228.93 73.36,229.34 74.45,229.79 75.56,230.33 76.70,231.00 77.89,231.80 79.10,232.69 80.34,233.68 81.57,234.73 82.80,235.84 84.00,237.00 85.18,238.23 86.36,239.53 87.52,240.90 88.67,242.30 89.80,243.71 90.90,245.10 91.98,246.52 93.03,248.01 94.07,249.51 95.08,250.96 96.06,252.30 97.00,253.50 97.89,254.54 98.72,255.48 99.52,256.32 100.31,257.06 101.13,257.72 102.00,258.30 102.94,258.79 103.93,259.18 104.95,259.48 105.96,259.71 106.92,259.88 107.80,260.00 108.59,260.06 109.31,260.06 109.99,259.99 110.65,259.87 111.31,259.71 112.00,259.50 112.71,259.26 113.43,258.99 114.15,258.67 114.87,258.29 115.59,257.84 116.30,257.30 117.00,256.67 117.70,255.97 118.40,255.19 119.10,254.34 119.80,253.45 120.50,252.50 121.19,251.48 121.86,250.37 122.52,249.20 123.22,248.01 123.97,246.83 124.80,245.70 125.70,244.60 126.66,243.49 127.67,242.40 128.74,241.33 129.85,240.29 131.00,239.26 132.20,238.25 133.46,237.24 134.77,236.25 136.11,235.24 137.49,234.21 138.90,233.15 140.33,232.06 141.79,230.95 143.28,229.81 144.80,228.66 146.38,227.48 148.00,226.27 149.81,224.94 151.84,223.46 153.92,221.95 155.87,220.52 157.52,219.29 158.70,218.40 158.70,234.40 157.52,234.62 155.87,234.93 153.92,235.32 151.84,235.76 149.81,236.25 148.00,236.73 146.38,237.22 144.80,237.73 143.28,238.27 141.79,238.84 140.33,239.43 138.90,240.05 137.49,240.68 136.11,241.32 134.77,241.99 133.46,242.70 132.20,243.48 131.00,244.34 129.85,245.29 128.74,246.33 127.67,247.40 126.66,248.49 125.70,249.60 124.80,250.70 123.97,251.83 123.22,253.01 122.52,254.20 121.86,255.37 121.19,256.48 120.50,257.50 119.80,258.45 119.10,259.34 118.40,260.19 117.70,260.97 117.00,261.67 116.30,262.30 115.59,262.84 114.87,263.29 114.15,263.67 113.43,263.99 112.71,264.26 112.00,264.50 111.31,264.71 110.65,264.87 109.99,264.99 109.31,265.06 108.59,265.06 107.80,265.00 106.92,264.88 105.96,264.71 104.95,264.48 103.93,264.18 102.94,263.79 102.00,263.30 101.13,262.72 100.31,262.06 99.52,261.32 98.72,260.48 97.89,259.54 97.00,258.50 96.06,257.30 95.08,255.96 94.07,254.51 93.03,253.01 91.98,251.52 90.90,250.10 89.80,248.71 88.67,247.30 87.52,245.90 86.36,244.53 85.18,243.23 84.00,242.00 82.80,240.84 81.57,239.73 80.34,238.68 79.10,237.69 77.89,236.80 76.70,236.00 75.56,235.33 74.45,234.79 73.36,234.34 72.26,233.93 71.15,233.53 70.00,233.10 68.81,232.64 67.59,232.19 66.36,231.74 65.11,231.36 63.85,231.08 62.60,230.86 61.35,230.70 60.10,230.58 58.84,230.51 57.57,230.49 56.29,230.52 55.00,230.61 53.60,230.80 52.07,231.07 50.52,231.40 49.09,231.75 47.87,232.07 47.00,232.30" fill="#CDCDCD" opacity="0.85"/>
<path d="M47.00,190.00 L47.54,189.39 L48.30,188.53 L49.19,187.51 L50.15,186.44 L51.11,185.41 L52.00,184.50 L52.83,183.70 L53.67,182.93 L54.50,182.20 L55.33,181.51 L56.17,180.88 L57.00,180.30 L57.83,179.79 L58.67,179.33 L59.50,178.93 L60.33,178.57 L61.17,178.26 L62.00,178.00 L62.83,177.79 L63.67,177.64 L64.50,177.53 L65.33,177.46 L66.17,177.42 L67.00,177.40 L67.83,177.38 L68.65,177.36 L69.47,177.38 L70.30,177.44 L71.14,177.57 L72.00,177.80 L72.88,178.08 L73.76,178.40 L74.66,178.78 L75.57,179.28 L76.52,179.94 L77.50,180.80 L78.52,181.86 L79.57,183.08 L80.66,184.46 L81.76,186.00 L82.88,187.68 L84.00,189.50 L85.16,191.56 L86.35,193.87 L87.56,196.32 L88.76,198.82 L89.91,201.25 L91.00,203.50 L91.99,205.60 L92.91,207.63 L93.78,209.59 L94.65,211.48 L95.54,213.29 L96.50,215.00 L97.55,216.65 L98.67,218.24 L99.81,219.75 L100.94,221.15 L102.02,222.41 L103.00,223.50 L103.88,224.40 L104.69,225.13 L105.44,225.72 L106.15,226.20 L106.83,226.62 L107.50,227.00 L108.14,227.35 L108.74,227.65 L109.31,227.88 L109.87,228.02 L110.43,228.06 L111.00,228.00 L111.58,227.83 L112.17,227.57 L112.75,227.22 L113.33,226.76 L113.92,226.19 L114.50,225.50 L115.08,224.68 L115.67,223.72 L116.25,222.66 L116.83,221.50 L117.42,220.27 L118.00,219.00 L118.59,217.63 L119.17,216.13 L119.76,214.57 L120.35,212.99 L120.93,211.45 L121.50,210.00 L122.04,208.64 L122.54,207.34 L123.04,206.07 L123.57,204.83 L124.14,203.61 L124.80,202.40 L125.55,201.18 L126.36,199.96 L127.23,198.76 L128.14,197.60 L129.07,196.50 L130.00,195.50 L130.96,194.59 L131.96,193.75 L132.98,192.97 L134.01,192.26 L135.02,191.61 L136.00,191.00 L136.94,190.46 L137.86,189.99 L138.76,189.57 L139.66,189.19 L140.57,188.84 L141.50,188.50 L142.46,188.17 L143.45,187.88 L144.44,187.61 L145.44,187.36 L146.43,187.12 L147.40,186.90 L148.35,186.69 L149.29,186.50 L150.21,186.33 L151.14,186.17 L152.06,186.03 L153.00,185.90 L154.01,185.78 L155.10,185.68 L156.20,185.59 L157.22,185.51 L158.08,185.45 L158.70,185.40" fill="none" stroke="#7CBFBC" stroke-width="1.0"/>
<path d="M47.00,225.00 L47.87,225.10 L49.09,225.22 L50.52,225.38 L52.07,225.56 L53.60,225.76 L55.00,226.00 L56.29,226.27 L57.57,226.57 L58.84,226.90 L60.10,227.25 L61.35,227.62 L62.60,228.00 L63.85,228.40 L65.11,228.81 L66.36,229.24 L67.59,229.69 L68.81,230.14 L70.00,230.60 L71.15,231.03 L72.26,231.43 L73.36,231.84 L74.45,232.29 L75.56,232.83 L76.70,233.50 L77.89,234.30 L79.10,235.19 L80.34,236.18 L81.57,237.23 L82.80,238.34 L84.00,239.50 L85.18,240.73 L86.36,242.03 L87.52,243.40 L88.67,244.80 L89.80,246.21 L90.90,247.60 L91.98,249.02 L93.03,250.51 L94.07,252.01 L95.08,253.46 L96.06,254.80 L97.00,256.00 L97.89,257.04 L98.72,257.98 L99.52,258.82 L100.31,259.56 L101.13,260.22 L102.00,260.80 L102.94,261.29 L103.93,261.68 L104.95,261.98 L105.96,262.21 L106.92,262.38 L107.80,262.50 L108.59,262.56 L109.31,262.56 L109.99,262.49 L110.65,262.37 L111.31,262.21 L112.00,262.00 L112.71,261.76 L113.43,261.49 L114.15,261.17 L114.87,260.79 L115.59,260.34 L116.30,259.80 L117.00,259.17 L117.70,258.47 L118.40,257.69 L119.10,256.84 L119.80,255.95 L120.50,255.00 L121.19,253.98 L121.86,252.87 L122.52,251.70 L123.22,250.51 L123.97,249.33 L124.80,248.20 L125.70,247.10 L126.66,245.99 L127.67,244.90 L128.74,243.83 L129.85,242.79 L131.00,241.80 L132.20,240.86 L133.46,239.97 L134.77,239.12 L136.11,238.28 L137.49,237.45 L138.90,236.60 L140.33,235.74 L141.79,234.89 L143.28,234.04 L144.80,233.20 L146.38,232.35 L148.00,231.50 L149.81,230.59 L151.84,229.61 L153.92,228.63 L155.87,227.72 L157.52,226.95 L158.70,226.40" fill="none" stroke="#CDA8B2" stroke-width="1.0"/>
<rect x="115.5" y="202.5" width="13" height="10" fill="#fff"/>
<rect x="118" y="236.5" width="19" height="10" fill="#fff"/>
<text x="122.00" y="211.50" font-size="8.7" text-anchor="middle" font-family="'Liberation Serif', 'Times New Roman', serif" fill="#111" font-weight="normal" style="stroke-width:0.08px" >HC</text>
<text x="127.60" y="245.50" font-size="8.7" text-anchor="middle" font-family="'Liberation Serif', 'Times New Roman', serif" fill="#111" font-weight="normal" style="stroke-width:0.08px" >CRC</text>
<path d="M45.5,165 V284.3 H166" fill="none" stroke="#777" stroke-width="0.9"/>
<text x="42.60" y="173.40" font-size="8.7" text-anchor="end" font-family="'Liberation Sans', Arial, sans-serif" fill="#111" font-weight="normal" >0.63</text>
<text x="42.60" y="204.70" font-size="8.7" text-anchor="end" font-family="'Liberation Sans', Arial, sans-serif" fill="#111" font-weight="normal" >0.60</text>
<text x="42.60" y="243.70" font-size="8.7" text-anchor="end" font-family="'Liberation Sans', Arial, sans-serif" fill="#111" font-weight="normal" >0.57</text>
<text x="42.60" y="282.30" font-size="8.7" text-anchor="end" font-family="'Liberation Sans', Arial, sans-serif" fill="#111" font-weight="normal" >0.54</text>
<text x="46.20" y="293.90" font-size="8.7" text-anchor="middle" font-family="'Liberation Sans', Arial, sans-serif" fill="#111" font-weight="normal" >−5,000</text>
<text x="76.50" y="293.90" font-size="8.7" text-anchor="middle" font-family="'Liberation Sans', Arial, sans-serif" fill="#111" font-weight="normal" >−2,500</text>
<text x="103.10" y="293.90" font-size="8.7" text-anchor="middle" font-family="'Liberation Sans', Arial, sans-serif" fill="#111" font-weight="normal" >0</text>
<text x="131.80" y="293.90" font-size="8.7" text-anchor="middle" font-family="'Liberation Sans', Arial, sans-serif" fill="#111" font-weight="normal" >2,500</text>
<text x="160.40" y="293.90" font-size="8.7" text-anchor="middle" font-family="'Liberation Sans', Arial, sans-serif" fill="#111" font-weight="normal" >5,000</text>
<text x="108.50" y="307.40" font-size="8.7" text-anchor="middle" font-family="'Liberation Sans', Arial, sans-serif" fill="#111" font-weight="normal" >Distance to TSS</text>
<text transform="translate(20.6,221) rotate(-90)" font-size="8.7" text-anchor="middle" font-family="'Liberation Sans', Arial, sans-serif" fill="#111">β value</text>
<text x="51.3" y="279" font-size="8.7" font-family="'Liberation Sans', Arial, sans-serif" fill="#111"><tspan font-style="italic">P</tspan> = 0.010</text>
<text x="184.20" y="171.70" font-size="12.4" text-anchor="start" font-family="'Liberation Sans', Arial, sans-serif" fill="#000" font-weight="bold" >E</text>
<rect x="208.2" y="170.3" width="120" height="119.2" fill="#fff" stroke="#e2e2e2" stroke-width="0.8"/>
<clipPath id="clipE"><rect x="208.2" y="170.3" width="120" height="119.2"/></clipPath>
<g clip-path="url(#clipE)" stroke="#efefef" stroke-width="0.6" fill="none">
<circle cx="268.5" cy="230.0" r="9.5"/>
<circle cx="268.5" cy="230.0" r="19"/>
<circle cx="268.5" cy="230.0" r="28.5"/>
<circle cx="268.5" cy="230.0" r="38"/>
<circle cx="268.5" cy="230.0" r="47.5"/>
<circle cx="268.5" cy="230.0" r="57"/>
<circle cx="268.5" cy="230.0" r="66.5"/>
<line x1="268.5" y1="230.0" x2="358.50" y2="230.00"/>
<line x1="268.5" y1="230.0" x2="346.44" y2="275.00"/>
<line x1="268.5" y1="230.0" x2="313.50" y2="307.94"/>
<line x1="268.5" y1="230.0" x2="268.50" y2="320.00"/>
<line x1="268.5" y1="230.0" x2="223.50" y2="307.94"/>
<line x1="268.5" y1="230.0" x2="190.56" y2="275.00"/>
<line x1="268.5" y1="230.0" x2="178.50" y2="230.00"/>
<line x1="268.5" y1="230.0" x2="190.56" y2="185.00"/>
<line x1="268.5" y1="230.0" x2="223.50" y2="152.06"/>
<line x1="268.5" y1="230.0" x2="268.50" y2="140.00"/>
<line x1="268.5" y1="230.0" x2="313.50" y2="152.06"/>
<line x1="268.5" y1="230.0" x2="346.44" y2="185.00"/>
</g>
<path d="M268.5,230.0 L280.72,184.39 A47.22,47.22 0 0 1 301.89,196.61 Z" fill="#7FB3DA"/>
<path d="M268.5,230.0 L292.93,254.43 A34.55,34.55 0 0 1 277.44,263.38 Z" fill="#F47B67"/>
<path d="M268.5,230.0 L267.26,234.63 A4.80,4.80 0 0 1 265.11,233.39 Z" fill="#B59AD0"/>
<path d="M268.5,230.0 L215.18,244.29 A55.20,55.20 0 0 1 215.18,215.71 Z" fill="#3C5E92"/>
<path d="M268.5,230.0 L240.77,202.27 A39.22,39.22 0 0 1 258.35,192.11 Z" fill="#7B2E3E"/>
<text x="234.60" y="190.80" font-size="9.0" text-anchor="middle" font-family="'Liberation Serif', 'Times New Roman', serif" fill="#222" font-weight="normal" style="stroke-width:0.08px" >21.67%</text>
<text x="313.70" y="188.00" font-size="9.0" text-anchor="middle" font-family="'Liberation Serif', 'Times New Roman', serif" fill="#222" font-weight="normal" style="stroke-width:0.08px" >26.09%</text>
<text x="198.00" y="235.20" font-size="9.0" text-anchor="middle" font-family="'Liberation Serif', 'Times New Roman', serif" fill="#222" font-weight="normal" style="stroke-width:0.08px" >30.50%</text>
<text x="257.60" y="245.00" font-size="9.0" text-anchor="middle" font-family="'Liberation Serif', 'Times New Roman', serif" fill="#222" font-weight="normal" style="stroke-width:0.08px" >2.65%</text>
<text x="301.70" y="266.90" font-size="9.0" text-anchor="middle" font-family="'Liberation Serif', 'Times New Roman', serif" fill="#222" font-weight="normal" style="stroke-width:0.08px" >19.09%</text>
<rect x="333.2" y="197.00" width="6.3" height="5.7" fill="#B59AD0"/>
<text x="341.30" y="202.40" font-size="7.8" text-anchor="start" font-family="'Liberation Sans', Arial, sans-serif" fill="#111" font-weight="normal" >Island</text>
<rect x="333.2" y="205.05" width="6.3" height="5.7" fill="#3C5E92"/>
<text x="341.30" y="210.45" font-size="7.8" text-anchor="start" font-family="'Liberation Sans', Arial, sans-serif" fill="#111" font-weight="normal" >N_Shore</text>
<rect x="333.2" y="213.10" width="6.3" height="5.7" fill="#7B2E3E"/>
<text x="341.30" y="218.50" font-size="7.8" text-anchor="start" font-family="'Liberation Sans', Arial, sans-serif" fill="#111" font-weight="normal" >N_Shelf</text>
<rect x="333.2" y="221.15" width="6.3" height="5.7" fill="#7FB3DA"/>
<text x="341.30" y="226.55" font-size="7.8" text-anchor="start" font-family="'Liberation Sans', Arial, sans-serif" fill="#111" font-weight="normal" >S_Shore</text>
<rect x="333.2" y="229.20" width="6.3" height="5.7" fill="#F47B67"/>
<text x="341.30" y="234.60" font-size="7.8" text-anchor="start" font-family="'Liberation Sans', Arial, sans-serif" fill="#111" font-weight="normal" >S_Shelf</text>
<text x="269.40" y="304.30" font-size="8.7" text-anchor="middle" font-family="'Liberation Sans', Arial, sans-serif" fill="#111" font-weight="normal" >Location relative to CpG islands</text>
<text x="377.80" y="171.90" font-size="12.4" text-anchor="start" font-family="'Liberation Sans', Arial, sans-serif" fill="#000" font-weight="bold" >F</text>
<circle cx="450.3" cy="229.6" r="56.65" fill="none" stroke="#E0E0E0" stroke-width="6.70"/>
<path d="M450.3,169.60 A60.00,60.00 0 1 1 396.03,255.19 L402.09,252.34 A53.30,53.30 0 1 0 450.3,176.30 Z" fill="#F6C431"/>
<text x="448.80" y="175.55" font-size="7.4" text-anchor="end" font-family="'Liberation Serif', 'Times New Roman', serif" fill="#333" font-weight="normal" style="stroke-width:0.08px" >Body (64.48%)</text>
<circle cx="450.3" cy="229.6" r="48.35" fill="none" stroke="#E0E0E0" stroke-width="6.70"/>
<path d="M450.3,177.90 A51.70,51.70 0 0 1 496.37,206.13 L490.40,209.17 A45.00,45.00 0 0 0 450.3,184.60 Z" fill="#3E9E2F"/>
<text x="448.80" y="183.85" font-size="7.4" text-anchor="end" font-family="'Liberation Serif', 'Times New Roman', serif" fill="#333" font-weight="normal" style="stroke-width:0.08px" >5&#39;UTR (16.94%)</text>
<circle cx="450.3" cy="229.6" r="40.05" fill="none" stroke="#E0E0E0" stroke-width="6.70"/>
<path d="M450.3,186.20 A43.40,43.40 0 0 1 472.98,192.60 L469.48,198.31 A36.70,36.70 0 0 0 450.3,192.90 Z" fill="#2E7C8A"/>
<text x="448.80" y="192.15" font-size="7.4" text-anchor="end" font-family="'Liberation Serif', 'Times New Roman', serif" fill="#333" font-weight="normal" style="stroke-width:0.08px" >TSS1500 (10.45%)</text>
<circle cx="450.3" cy="229.6" r="31.75" fill="none" stroke="#E0E0E0" stroke-width="6.70"/>
<path d="M450.3,194.50 A35.10,35.10 0 0 1 455.55,194.89 L454.55,201.52 A28.40,28.40 0 0 0 450.3,201.20 Z" fill="#D4401C"/>
<text x="448.80" y="200.45" font-size="7.4" text-anchor="end" font-family="'Liberation Serif', 'Times New Roman', serif" fill="#333" font-weight="normal" style="stroke-width:0.08px" >TSS200 (3.45%)</text>
<circle cx="450.3" cy="229.6" r="23.45" fill="none" stroke="#E0E0E0" stroke-width="6.70"/>
<path d="M450.3,202.80 A26.80,26.80 0 0 1 454.77,203.18 L453.65,209.78 A20.10,20.10 0 0 0 450.3,209.50 Z" fill="#72C1C9"/>
<text x="448.80" y="208.75" font-size="7.4" text-anchor="end" font-family="'Liberation Serif', 'Times New Roman', serif" fill="#333" font-weight="normal" style="stroke-width:0.08px" >3&#39;UTR (3.05%)</text>
<circle cx="450.3" cy="229.6" r="15.15" fill="none" stroke="#E0E0E0" stroke-width="6.70"/>
<path d="M450.3,211.10 A18.50,18.50 0 0 1 451.85,211.16 L451.29,217.84 A11.80,11.80 0 0 0 450.3,217.80 Z" fill="#4A5878"/>
<text x="448.80" y="217.05" font-size="7.4" text-anchor="end" font-family="'Liberation Serif', 'Times New Roman', serif" fill="#333" font-weight="normal" style="stroke-width:0.08px" >1stExon (1.63%)</text>
<text x="450.80" y="304.30" font-size="8.7" text-anchor="middle" font-family="'Liberation Sans', Arial, sans-serif" fill="#111" font-weight="normal" >Location relative to TSS</text>
<text x="0.70" y="328.70" font-size="12.4" text-anchor="start" font-family="'Liberation Sans', Arial, sans-serif" fill="#000" font-weight="bold" >G</text>
<rect x="19.10" y="324.3" width="32.05" height="3.4" fill="#2E86C1"/>
<rect x="51.10" y="324.3" width="5.85" height="3.4" fill="#E8643A"/>
<rect x="56.90" y="324.3" width="7.15" height="3.4" fill="#2E86C1"/>
<rect x="64.00" y="324.3" width="2.35" height="3.4" fill="#E8643A"/>
<rect x="66.30" y="324.3" width="11.65" height="3.4" fill="#2E86C1"/>
<rect x="77.90" y="324.3" width="5.95" height="3.4" fill="#E8643A"/>
<rect x="83.80" y="324.3" width="7.05" height="3.4" fill="#2E86C1"/>
<rect x="90.80" y="324.3" width="2.45" height="3.4" fill="#E8643A"/>
<rect x="93.20" y="324.3" width="4.25" height="3.4" fill="#2E86C1"/>
<rect x="97.40" y="324.3" width="5.95" height="3.4" fill="#E8643A"/>
<rect x="103.30" y="324.3" width="4.75" height="3.4" fill="#2E86C1"/>
<rect x="108.00" y="324.3" width="4.05" height="3.4" fill="#E8643A"/>
<rect x="112.00" y="324.3" width="3.75" height="3.4" fill="#2E86C1"/>
<rect x="115.70" y="324.3" width="5.05" height="3.4" fill="#E8643A"/>
<rect x="120.70" y="324.3" width="21.35" height="3.4" fill="#2E86C1"/>
<rect x="142.00" y="324.3" width="3.55" height="3.4" fill="#E8643A"/>
<rect x="145.50" y="324.3" width="6.55" height="3.4" fill="#2E86C1"/>
<rect x="152.00" y="324.3" width="4.05" height="3.4" fill="#E8643A"/>
<rect x="156.00" y="324.3" width="52.55" height="3.4" fill="#2E86C1"/>
<rect x="208.50" y="324.3" width="6.55" height="3.4" fill="#E8643A"/>
<rect x="215.00" y="324.3" width="6.05" height="3.4" fill="#2E86C1"/>
<rect x="221.00" y="324.3" width="9.05" height="3.4" fill="#E8643A"/>
<rect x="230.00" y="324.3" width="2.05" height="3.4" fill="#2E86C1"/>
<rect x="232.00" y="324.3" width="4.55" height="3.4" fill="#E8643A"/>
<rect x="236.50" y="324.3" width="5.05" height="3.4" fill="#2E86C1"/>
<rect x="241.50" y="324.3" width="36.55" height="3.4" fill="#E8643A"/>
<rect x="278.00" y="324.3" width="5.05" height="3.4" fill="#2E86C1"/>
<rect x="283.00" y="324.3" width="46.05" height="3.4" fill="#E8643A"/>
<rect x="329.00" y="324.3" width="4.55" height="3.4" fill="#2E86C1"/>
<rect x="333.50" y="324.3" width="27.45" height="3.4" fill="#E8643A"/>
<rect x="19.10" y="328.40" width="4.02" height="13.80" fill="#e9eef2"/>
<rect x="19.10" y="341.60" width="4.02" height="13.80" fill="#c8d8e7"/>
<rect x="19.10" y="354.80" width="4.02" height="13.80" fill="#f7f7f7"/>
<rect x="19.10" y="368.00" width="4.02" height="13.80" fill="#f7f1ee"/>
<rect x="19.10" y="381.20" width="4.02" height="13.80" fill="#f5b99f"/>
<rect x="19.10" y="394.40" width="4.02" height="13.80" fill="#f6c0a8"/>
<rect x="19.10" y="407.60" width="4.02" height="13.80" fill="#f6c0a8"/>
<rect x="19.10" y="420.80" width="4.02" height="13.80" fill="#f5b99f"/>
<rect x="19.10" y="434.00" width="4.02" height="13.80" fill="#f29572"/>
<rect x="19.10" y="447.20" width="4.02" height="13.20" fill="#f7f7f7"/>
<rect x="22.52" y="328.40" width="4.02" height="13.80" fill="#b9cee2"/>
<rect x="22.52" y="341.60" width="4.02" height="13.80" fill="#f7f7f7"/>
<rect x="22.52" y="354.80" width="4.02" height="13.80" fill="#e4eaf1"/>
<rect x="22.52" y="368.00" width="4.02" height="13.80" fill="#f7e4dc"/>
<rect x="22.52" y="381.20" width="4.02" height="13.80" fill="#f6c0a8"/>
<rect x="22.52" y="394.40" width="4.02" height="13.80" fill="#f5b99f"/>
<rect x="22.52" y="407.60" width="4.02" height="13.80" fill="#f6c0a8"/>
<rect x="22.52" y="420.80" width="4.02" height="13.80" fill="#f5b99f"/>
<rect x="22.52" y="434.00" width="4.02" height="13.80" fill="#f7f1ee"/>
<rect x="22.52" y="447.20" width="4.02" height="13.20" fill="#f6c6b0"/>
<rect x="25.94" y="328.40" width="4.02" height="13.80" fill="#dfe7ef"/>
<rect x="25.94" y="341.60" width="4.02" height="13.80" fill="#f7eae5"/>
<rect x="25.94" y="354.80" width="4.02" height="13.80" fill="#f7f7f7"/>
<rect x="25.94" y="368.00" width="4.02" height="13.80" fill="#f7f7f7"/>
<rect x="25.94" y="381.20" width="4.02" height="13.80" fill="#f6c6b0"/>
<rect x="25.94" y="394.40" width="4.02" height="13.80" fill="#f6d2c2"/>
<rect x="25.94" y="407.60" width="4.02" height="13.80" fill="#f5a785"/>
<rect x="25.94" y="420.80" width="4.02" height="13.80" fill="#f6c0a8"/>
<rect x="25.94" y="434.00" width="4.02" height="13.80" fill="#f7e5dd"/>
<rect x="25.94" y="447.20" width="4.02" height="13.20" fill="#f6ccb9"/>
<rect x="29.35" y="328.40" width="4.02" height="13.80" fill="#d1deea"/>
<rect x="29.35" y="341.60" width="4.02" height="13.80" fill="#bed1e4"/>
<rect x="29.35" y="354.80" width="4.02" height="13.80" fill="#e9eef2"/>
<rect x="29.35" y="368.00" width="4.02" height="13.80" fill="#d1deea"/>
<rect x="29.35" y="381.20" width="4.02" height="13.80" fill="#f6c0a8"/>
<rect x="29.35" y="394.40" width="4.02" height="13.80" fill="#f5b99f"/>
<rect x="29.35" y="407.60" width="4.02" height="13.80" fill="#f6d8cb"/>
<rect x="29.35" y="420.80" width="4.02" height="13.80" fill="#f5b99f"/>
<rect x="29.35" y="434.00" width="4.02" height="13.80" fill="#f6c6b0"/>
<rect x="29.35" y="447.20" width="4.02" height="13.20" fill="#f6c0a8"/>
<rect x="32.77" y="328.40" width="4.02" height="13.80" fill="#c3d4e5"/>
<rect x="32.77" y="341.60" width="4.02" height="13.80" fill="#e9eef2"/>
<rect x="32.77" y="354.80" width="4.02" height="13.80" fill="#eef1f4"/>
<rect x="32.77" y="368.00" width="4.02" height="13.80" fill="#ccdbe9"/>
<rect x="32.77" y="381.20" width="4.02" height="13.80" fill="#f6c6b0"/>
<rect x="32.77" y="394.40" width="4.02" height="13.80" fill="#f6c0a8"/>
<rect x="32.77" y="407.60" width="4.02" height="13.80" fill="#f5a785"/>
<rect x="32.77" y="420.80" width="4.02" height="13.80" fill="#f6c6b0"/>
<rect x="32.77" y="434.00" width="4.02" height="13.80" fill="#f5b99f"/>
<rect x="32.77" y="447.20" width="4.02" height="13.20" fill="#f6ded4"/>
<rect x="36.19" y="328.40" width="4.02" height="13.80" fill="#bed1e4"/>
<rect x="36.19" y="341.60" width="4.02" height="13.80" fill="#eef1f4"/>
<rect x="36.19" y="354.80" width="4.02" height="13.80" fill="#e9eef2"/>
<rect x="36.19" y="368.00" width="4.02" height="13.80" fill="#f7f1ee"/>
<rect x="36.19" y="381.20" width="4.02" height="13.80" fill="#f5ad8d"/>
<rect x="36.19" y="394.40" width="4.02" height="13.80" fill="#f6d2c2"/>
<rect x="36.19" y="407.60" width="4.02" height="13.80" fill="#f7e5dd"/>
<rect x="36.19" y="420.80" width="4.02" height="13.80" fill="#f6ded4"/>
<rect x="36.19" y="434.00" width="4.02" height="13.80" fill="#f4a17e"/>
<rect x="36.19" y="447.20" width="4.02" height="13.20" fill="#f6c6b0"/>
<rect x="39.61" y="328.40" width="4.02" height="13.80" fill="#c8d8e7"/>
<rect x="39.61" y="341.60" width="4.02" height="13.80" fill="#f7f1ee"/>
<rect x="39.61" y="354.80" width="4.02" height="13.80" fill="#d6e1ec"/>
<rect x="39.61" y="368.00" width="4.02" height="13.80" fill="#f6ded3"/>
<rect x="39.61" y="381.20" width="4.02" height="13.80" fill="#f6c0a8"/>
<rect x="39.61" y="394.40" width="4.02" height="13.80" fill="#f6c6b0"/>
<rect x="39.61" y="407.60" width="4.02" height="13.80" fill="#f7f1ee"/>
<rect x="39.61" y="420.80" width="4.02" height="13.80" fill="#f6ccb9"/>
<rect x="39.61" y="434.00" width="4.02" height="13.80" fill="#f5b99f"/>
<rect x="39.61" y="447.20" width="4.02" height="13.20" fill="#f29572"/>
<rect x="43.03" y="328.40" width="4.02" height="13.80" fill="#f7f7f7"/>
<rect x="43.03" y="341.60" width="4.02" height="13.80" fill="#f6ded3"/>
<rect x="43.03" y="354.80" width="4.02" height="13.80" fill="#f7e4dc"/>
<rect x="43.03" y="368.00" width="4.02" height="13.80" fill="#f6ded3"/>
<rect x="43.03" y="381.20" width="4.02" height="13.80" fill="#f6c6b0"/>
<rect x="43.03" y="394.40" width="4.02" height="13.80" fill="#f6c6b0"/>
<rect x="43.03" y="407.60" width="4.02" height="13.80" fill="#f5a785"/>
<rect x="43.03" y="420.80" width="4.02" height="13.80" fill="#f6d2c2"/>
<rect x="43.03" y="434.00" width="4.02" height="13.80" fill="#f6c6b0"/>
<rect x="43.03" y="447.20" width="4.02" height="13.20" fill="#f6ded4"/>
<rect x="46.44" y="328.40" width="4.02" height="13.80" fill="#ccdbe9"/>
<rect x="46.44" y="341.60" width="4.02" height="13.80" fill="#f7e4dc"/>
<rect x="46.44" y="354.80" width="4.02" height="13.80" fill="#f7f7f7"/>
<rect x="46.44" y="368.00" width="4.02" height="13.80" fill="#f7e4dc"/>
<rect x="46.44" y="381.20" width="4.02" height="13.80" fill="#f6ccb9"/>
<rect x="46.44" y="394.40" width="4.02" height="13.80" fill="#f6c6b0"/>
<rect x="46.44" y="407.60" width="4.02" height="13.80" fill="#f6d2c2"/>
<rect x="46.44" y="420.80" width="4.02" height="13.80" fill="#f6c6b0"/>
<rect x="46.44" y="434.00" width="4.02" height="13.80" fill="#f7f1ee"/>
<rect x="46.44" y="447.20" width="4.02" height="13.20" fill="#f6c0a8"/>
<rect x="49.86" y="328.40" width="4.02" height="13.80" fill="#ccdbe9"/>
<rect x="49.86" y="341.60" width="4.02" height="13.80" fill="#f7e4dc"/>
<rect x="49.86" y="354.80" width="4.02" height="13.80" fill="#f7f1ee"/>
<rect x="49.86" y="368.00" width="4.02" height="13.80" fill="#f7e4dc"/>
<rect x="49.86" y="381.20" width="4.02" height="13.80" fill="#f6d8cb"/>
<rect x="49.86" y="394.40" width="4.02" height="13.80" fill="#f6c0a8"/>
<rect x="49.86" y="407.60" width="4.02" height="13.80" fill="#f6ccb9"/>
<rect x="49.86" y="420.80" width="4.02" height="13.80" fill="#f6c6b0"/>
<rect x="49.86" y="434.00" width="4.02" height="13.80" fill="#f1f3f5"/>
<rect x="49.86" y="447.20" width="4.02" height="13.20" fill="#f6d2c2"/>
<rect x="53.28" y="328.40" width="4.02" height="13.80" fill="#ccdbe9"/>
<rect x="53.28" y="341.60" width="4.02" height="13.80" fill="#f7f7f7"/>
<rect x="53.28" y="354.80" width="4.02" height="13.80" fill="#f7e4dc"/>
<rect x="53.28" y="368.00" width="4.02" height="13.80" fill="#f6d7ca"/>
<rect x="53.28" y="381.20" width="4.02" height="13.80" fill="#f6c6b0"/>
<rect x="53.28" y="394.40" width="4.02" height="13.80" fill="#f6d2c2"/>
<rect x="53.28" y="407.60" width="4.02" height="13.80" fill="#f6c6b0"/>
<rect x="53.28" y="420.80" width="4.02" height="13.80" fill="#f6ccb9"/>
<rect x="53.28" y="434.00" width="4.02" height="13.80" fill="#f7f1ee"/>
<rect x="53.28" y="447.20" width="4.02" height="13.20" fill="#f6d8cb"/>
<rect x="56.70" y="328.40" width="4.02" height="13.80" fill="#c8d8e7"/>
<rect x="56.70" y="341.60" width="4.02" height="13.80" fill="#f7f7f7"/>
<rect x="56.70" y="354.80" width="4.02" height="13.80" fill="#dfe7ef"/>
<rect x="56.70" y="368.00" width="4.02" height="13.80" fill="#f6d7ca"/>
<rect x="56.70" y="381.20" width="4.02" height="13.80" fill="#f7e5dd"/>
<rect x="56.70" y="394.40" width="4.02" height="13.80" fill="#f5b99f"/>
<rect x="56.70" y="407.60" width="4.02" height="13.80" fill="#f6d8cb"/>
<rect x="56.70" y="420.80" width="4.02" height="13.80" fill="#f6d8cb"/>
<rect x="56.70" y="434.00" width="4.02" height="13.80" fill="#f7ebe5"/>
<rect x="56.70" y="447.20" width="4.02" height="13.20" fill="#f5b99f"/>
<rect x="60.12" y="328.40" width="4.02" height="13.80" fill="#ccdbe9"/>
<rect x="60.12" y="341.60" width="4.02" height="13.80" fill="#f7f7f7"/>
<rect x="60.12" y="354.80" width="4.02" height="13.80" fill="#f7f7f7"/>
<rect x="60.12" y="368.00" width="4.02" height="13.80" fill="#f6ded3"/>
<rect x="60.12" y="381.20" width="4.02" height="13.80" fill="#f7e5dd"/>
<rect x="60.12" y="394.40" width="4.02" height="13.80" fill="#f6d8cb"/>
<rect x="60.12" y="407.60" width="4.02" height="13.80" fill="#f6ccb9"/>
<rect x="60.12" y="420.80" width="4.02" height="13.80" fill="#f6ded4"/>
<rect x="60.12" y="434.00" width="4.02" height="13.80" fill="#f7e5dd"/>
<rect x="60.12" y="447.20" width="4.02" height="13.20" fill="#f6c6b0"/>
<rect x="63.53" y="328.40" width="4.02" height="13.80" fill="#f7e4dc"/>
<rect x="63.53" y="341.60" width="4.02" height="13.80" fill="#e9eef2"/>
<rect x="63.53" y="354.80" width="4.02" height="13.80" fill="#f7f7f7"/>
<rect x="63.53" y="368.00" width="4.02" height="13.80" fill="#f7e4dc"/>
<rect x="63.53" y="381.20" width="4.02" height="13.80" fill="#f7e5dd"/>
<rect x="63.53" y="394.40" width="4.02" height="13.80" fill="#f7e5dd"/>
<rect x="63.53" y="407.60" width="4.02" height="13.80" fill="#f6c0a8"/>
<rect x="63.53" y="420.80" width="4.02" height="13.80" fill="#f6ded4"/>
<rect x="63.53" y="434.00" width="4.02" height="13.80" fill="#f6d8cb"/>
<rect x="63.53" y="447.20" width="4.02" height="13.20" fill="#f5b99f"/>
<rect x="66.95" y="328.40" width="4.02" height="13.80" fill="#f7f7f7"/>
<rect x="66.95" y="341.60" width="4.02" height="13.80" fill="#e9eef2"/>
<rect x="66.95" y="354.80" width="4.02" height="13.80" fill="#f7f7f7"/>
<rect x="66.95" y="368.00" width="4.02" height="13.80" fill="#f7f7f7"/>
<rect x="66.95" y="381.20" width="4.02" height="13.80" fill="#f7e5dd"/>
<rect x="66.95" y="394.40" width="4.02" height="13.80" fill="#f7e5dd"/>
<rect x="66.95" y="407.60" width="4.02" height="13.80" fill="#f6c6b0"/>
<rect x="66.95" y="420.80" width="4.02" height="13.80" fill="#f7f7f7"/>
<rect x="66.95" y="434.00" width="4.02" height="13.80" fill="#f7e5dd"/>
<rect x="66.95" y="447.20" width="4.02" height="13.20" fill="#f6c0a8"/>
<rect x="70.37" y="328.40" width="4.02" height="13.80" fill="#f7f1ee"/>
<rect x="70.37" y="341.60" width="4.02" height="13.80" fill="#f7f7f7"/>
<rect x="70.37" y="354.80" width="4.02" height="13.80" fill="#f7eae5"/>
<rect x="70.37" y="368.00" width="4.02" height="13.80" fill="#eef1f4"/>
<rect x="70.37" y="381.20" width="4.02" height="13.80" fill="#f7e5dd"/>
<rect x="70.37" y="394.40" width="4.02" height="13.80" fill="#f7ebe5"/>
<rect x="70.37" y="407.60" width="4.02" height="13.80" fill="#f6d8cb"/>
<rect x="70.37" y="420.80" width="4.02" height="13.80" fill="#f7e5dd"/>
<rect x="70.37" y="434.00" width="4.02" height="13.80" fill="#f7f1ee"/>
<rect x="70.37" y="447.20" width="4.02" height="13.20" fill="#f6c6b0"/>
<rect x="73.79" y="328.40" width="4.02" height="13.80" fill="#f7f7f7"/>
<rect x="73.79" y="341.60" width="4.02" height="13.80" fill="#f7f7f7"/>
<rect x="73.79" y="354.80" width="4.02" height="13.80" fill="#f7eae5"/>
<rect x="73.79" y="368.00" width="4.02" height="13.80" fill="#e9eef2"/>
<rect x="73.79" y="381.20" width="4.02" height="13.80" fill="#f7f1ee"/>
<rect x="73.79" y="394.40" width="4.02" height="13.80" fill="#f7f1ee"/>
<rect x="73.79" y="407.60" width="4.02" height="13.80" fill="#f7f1ee"/>
<rect x="73.79" y="420.80" width="4.02" height="13.80" fill="#f7f7f7"/>
<rect x="73.79" y="434.00" width="4.02" height="13.80" fill="#f6c6b0"/>
<rect x="73.79" y="447.20" width="4.02" height="13.20" fill="#f5b396"/>
<rect x="77.21" y="328.40" width="4.02" height="13.80" fill="#f39976"/>
<rect x="77.21" y="341.60" width="4.02" height="13.80" fill="#e4eaf1"/>
<rect x="77.21" y="354.80" width="4.02" height="13.80" fill="#f7e4dc"/>
<rect x="77.21" y="368.00" width="4.02" height="13.80" fill="#f7f7f7"/>
<rect x="77.21" y="381.20" width="4.02" height="13.80" fill="#f7e5dd"/>
<rect x="77.21" y="394.40" width="4.02" height="13.80" fill="#9abad8"/>
<rect x="77.21" y="407.60" width="4.02" height="13.80" fill="#f6c6b0"/>
<rect x="77.21" y="420.80" width="4.02" height="13.80" fill="#ebeff3"/>
<rect x="77.21" y="434.00" width="4.02" height="13.80" fill="#f7f7f7"/>
<rect x="77.21" y="447.20" width="4.02" height="13.20" fill="#f7f1ee"/>
<rect x="80.62" y="328.40" width="4.02" height="13.80" fill="#f5a583"/>
<rect x="80.62" y="341.60" width="4.02" height="13.80" fill="#f7f7f7"/>
<rect x="80.62" y="354.80" width="4.02" height="13.80" fill="#f7e4dc"/>
<rect x="80.62" y="368.00" width="4.02" height="13.80" fill="#f7f1ee"/>
<rect x="80.62" y="381.20" width="4.02" height="13.80" fill="#f6ded4"/>
<rect x="80.62" y="394.40" width="4.02" height="13.80" fill="#f7f1ee"/>
<rect x="80.62" y="407.60" width="4.02" height="13.80" fill="#f6c6b0"/>
<rect x="80.62" y="420.80" width="4.02" height="13.80" fill="#f7f7f7"/>
<rect x="80.62" y="434.00" width="4.02" height="13.80" fill="#d8e3ed"/>
<rect x="80.62" y="447.20" width="4.02" height="13.20" fill="#f7f1ee"/>
<rect x="84.04" y="328.40" width="4.02" height="13.80" fill="#f7f1ee"/>
<rect x="84.04" y="341.60" width="4.02" height="13.80" fill="#f7f1ee"/>
<rect x="84.04" y="354.80" width="4.02" height="13.80" fill="#f7f7f7"/>
<rect x="84.04" y="368.00" width="4.02" height="13.80" fill="#f7f7f7"/>
<rect x="84.04" y="381.20" width="4.02" height="13.80" fill="#f7e5dd"/>
<rect x="84.04" y="394.40" width="4.02" height="13.80" fill="#f7ebe5"/>
<rect x="84.04" y="407.60" width="4.02" height="13.80" fill="#f6ccb9"/>
<rect x="84.04" y="420.80" width="4.02" height="13.80" fill="#f6ded4"/>
<rect x="84.04" y="434.00" width="4.02" height="13.80" fill="#dee7ef"/>
<rect x="84.04" y="447.20" width="4.02" height="13.20" fill="#f7f7f7"/>
<rect x="87.46" y="328.40" width="4.02" height="13.80" fill="#f7f1ee"/>
<rect x="87.46" y="341.60" width="4.02" height="13.80" fill="#f7f7f7"/>
<rect x="87.46" y="354.80" width="4.02" height="13.80" fill="#eef1f4"/>
<rect x="87.46" y="368.00" width="4.02" height="13.80" fill="#e9eef2"/>
<rect x="87.46" y="381.20" width="4.02" height="13.80" fill="#f7f1ee"/>
<rect x="87.46" y="394.40" width="4.02" height="13.80" fill="#f7e5dd"/>
<rect x="87.46" y="407.60" width="4.02" height="13.80" fill="#f7f1ee"/>
<rect x="87.46" y="420.80" width="4.02" height="13.80" fill="#f6ded4"/>
<rect x="87.46" y="434.00" width="4.02" height="13.80" fill="#d8e3ed"/>
<rect x="87.46" y="447.20" width="4.02" height="13.20" fill="#dee7ef"/>
<rect x="90.88" y="328.40" width="4.02" height="13.80" fill="#f6d1c1"/>
<rect x="90.88" y="341.60" width="4.02" height="13.80" fill="#f7f7f7"/>
<rect x="90.88" y="354.80" width="4.02" height="13.80" fill="#f7f7f7"/>
<rect x="90.88" y="368.00" width="4.02" height="13.80" fill="#e9eef2"/>
<rect x="90.88" y="381.20" width="4.02" height="13.80" fill="#f7f7f7"/>
<rect x="90.88" y="394.40" width="4.02" height="13.80" fill="#f7f1ee"/>
<rect x="90.88" y="407.60" width="4.02" height="13.80" fill="#f7ebe5"/>
<rect x="90.88" y="420.80" width="4.02" height="13.80" fill="#f6ded4"/>
<rect x="90.88" y="434.00" width="4.02" height="13.80" fill="#f7f7f7"/>
<rect x="90.88" y="447.20" width="4.02" height="13.20" fill="#f7f1ee"/>
<rect x="94.30" y="328.40" width="4.02" height="13.80" fill="#f7eae5"/>
<rect x="94.30" y="341.60" width="4.02" height="13.80" fill="#e9eef2"/>
<rect x="94.30" y="354.80" width="4.02" height="13.80" fill="#f7f1ee"/>
<rect x="94.30" y="368.00" width="4.02" height="13.80" fill="#f7eae5"/>
<rect x="94.30" y="381.20" width="4.02" height="13.80" fill="#f7f1ee"/>
<rect x="94.30" y="394.40" width="4.02" height="13.80" fill="#f7ebe5"/>
<rect x="94.30" y="407.60" width="4.02" height="13.80" fill="#ebeff3"/>
<rect x="94.30" y="420.80" width="4.02" height="13.80" fill="#f7e5dd"/>
<rect x="94.30" y="434.00" width="4.02" height="13.80" fill="#f7ebe5"/>
<rect x="94.30" y="447.20" width="4.02" height="13.20" fill="#f7e5dd"/>
<rect x="97.71" y="328.40" width="4.02" height="13.80" fill="#eef1f4"/>
<rect x="97.71" y="341.60" width="4.02" height="13.80" fill="#f7f7f7"/>
<rect x="97.71" y="354.80" width="4.02" height="13.80" fill="#f7f1ee"/>
<rect x="97.71" y="368.00" width="4.02" height="13.80" fill="#f7eae5"/>
<rect x="97.71" y="381.20" width="4.02" height="13.80" fill="#f7f7f7"/>
<rect x="97.71" y="394.40" width="4.02" height="13.80" fill="#f7f7f7"/>
<rect x="97.71" y="407.60" width="4.02" height="13.80" fill="#f7f7f7"/>
<rect x="97.71" y="420.80" width="4.02" height="13.80" fill="#f6ded4"/>
<rect x="97.71" y="434.00" width="4.02" height="13.80" fill="#f7f1ee"/>
<rect x="97.71" y="447.20" width="4.02" height="13.20" fill="#f7e5dd"/>
<rect x="101.13" y="328.40" width="4.02" height="13.80" fill="#f7eae5"/>
<rect x="101.13" y="341.60" width="4.02" height="13.80" fill="#f7f1ee"/>
<rect x="101.13" y="354.80" width="4.02" height="13.80" fill="#f7eae5"/>
<rect x="101.13" y="368.00" width="4.02" height="13.80" fill="#f7f1ee"/>
<rect x="101.13" y="381.20" width="4.02" height="13.80" fill="#d8e3ed"/>
<rect x="101.13" y="394.40" width="4.02" height="13.80" fill="#f7f1ee"/>
<rect x="101.13" y="407.60" width="4.02" height="13.80" fill="#f7ebe5"/>
<rect x="101.13" y="420.80" width="4.02" height="13.80" fill="#f6ded4"/>
<rect x="101.13" y="434.00" width="4.02" height="13.80" fill="#b9cee2"/>
<rect x="101.13" y="447.20" width="4.02" height="13.20" fill="#f7e5dd"/>
<rect x="104.55" y="328.40" width="4.02" height="13.80" fill="#ccdbe9"/>
<rect x="104.55" y="341.60" width="4.02" height="13.80" fill="#e9eef2"/>
<rect x="104.55" y="354.80" width="4.02" height="13.80" fill="#f7f7f7"/>
<rect x="104.55" y="368.00" width="4.02" height="13.80" fill="#eef1f4"/>
<rect x="104.55" y="381.20" width="4.02" height="13.80" fill="#f7f1ee"/>
<rect x="104.55" y="394.40" width="4.02" height="13.80" fill="#f7f7f7"/>
<rect x="104.55" y="407.60" width="4.02" height="13.80" fill="#f7ebe5"/>
<rect x="104.55" y="420.80" width="4.02" height="13.80" fill="#f7e5dd"/>
<rect x="104.55" y="434.00" width="4.02" height="13.80" fill="#f7f1ee"/>
<rect x="104.55" y="447.20" width="4.02" height="13.20" fill="#f7f1ee"/>
<rect x="107.97" y="328.40" width="4.02" height="13.80" fill="#dfe7ef"/>
<rect x="107.97" y="341.60" width="4.02" height="13.80" fill="#f2f4f5"/>
<rect x="107.97" y="354.80" width="4.02" height="13.80" fill="#f7f1ee"/>
<rect x="107.97" y="368.00" width="4.02" height="13.80" fill="#f7f1ee"/>
<rect x="107.97" y="381.20" width="4.02" height="13.80" fill="#f7f1ee"/>
<rect x="107.97" y="394.40" width="4.02" height="13.80" fill="#e4ebf1"/>
<rect x="107.97" y="407.60" width="4.02" height="13.80" fill="#f7f7f7"/>
<rect x="107.97" y="420.80" width="4.02" height="13.80" fill="#f7f7f7"/>
<rect x="107.97" y="434.00" width="4.02" height="13.80" fill="#f7f1ee"/>
<rect x="107.97" y="447.20" width="4.02" height="13.20" fill="#dee7ef"/>
<rect x="111.39" y="328.40" width="4.02" height="13.80" fill="#eef1f4"/>
<rect x="111.39" y="341.60" width="4.02" height="13.80" fill="#f7f7f7"/>
<rect x="111.39" y="354.80" width="4.02" height="13.80" fill="#eef1f4"/>
<rect x="111.39" y="368.00" width="4.02" height="13.80" fill="#e9eef2"/>
<rect x="111.39" y="381.20" width="4.02" height="13.80" fill="#f5b99f"/>
<rect x="111.39" y="394.40" width="4.02" height="13.80" fill="#f6ccb9"/>
<rect x="111.39" y="407.60" width="4.02" height="13.80" fill="#f7e5dd"/>
<rect x="111.39" y="420.80" width="4.02" height="13.80" fill="#f6c0a8"/>
<rect x="111.39" y="434.00" width="4.02" height="13.80" fill="#f6ded4"/>
<rect x="111.39" y="447.20" width="4.02" height="13.20" fill="#f7f7f7"/>
<rect x="114.80" y="328.40" width="4.02" height="13.80" fill="#dfe7ef"/>
<rect x="114.80" y="341.60" width="4.02" height="13.80" fill="#e9eef2"/>
<rect x="114.80" y="354.80" width="4.02" height="13.80" fill="#eef1f4"/>
<rect x="114.80" y="368.00" width="4.02" height="13.80" fill="#eef1f4"/>
<rect x="114.80" y="381.20" width="4.02" height="13.80" fill="#f5b99f"/>
<rect x="114.80" y="394.40" width="4.02" height="13.80" fill="#f6c6b0"/>
<rect x="114.80" y="407.60" width="4.02" height="13.80" fill="#f7e5dd"/>
<rect x="114.80" y="420.80" width="4.02" height="13.80" fill="#f6d8cb"/>
<rect x="114.80" y="434.00" width="4.02" height="13.80" fill="#f7f1ee"/>
<rect x="114.80" y="447.20" width="4.02" height="13.20" fill="#f7f1ee"/>
<rect x="118.22" y="328.40" width="4.02" height="13.80" fill="#e4eaf1"/>
<rect x="118.22" y="341.60" width="4.02" height="13.80" fill="#e9eef2"/>
<rect x="118.22" y="354.80" width="4.02" height="13.80" fill="#e9eef2"/>
<rect x="118.22" y="368.00" width="4.02" height="13.80" fill="#e4eaf1"/>
<rect x="118.22" y="381.20" width="4.02" height="13.80" fill="#f6c0a8"/>
<rect x="118.22" y="394.40" width="4.02" height="13.80" fill="#f6ccb9"/>
<rect x="118.22" y="407.60" width="4.02" height="13.80" fill="#f6ded4"/>
<rect x="118.22" y="420.80" width="4.02" height="13.80" fill="#f6ded4"/>
<rect x="118.22" y="434.00" width="4.02" height="13.80" fill="#f7e5dd"/>
<rect x="118.22" y="447.20" width="4.02" height="13.20" fill="#e4ebf1"/>
<rect x="121.64" y="328.40" width="4.02" height="13.80" fill="#dfe7ef"/>
<rect x="121.64" y="341.60" width="4.02" height="13.80" fill="#dfe7ef"/>
<rect x="121.64" y="354.80" width="4.02" height="13.80" fill="#e4eaf1"/>
<rect x="121.64" y="368.00" width="4.02" height="13.80" fill="#dfe7ef"/>
<rect x="121.64" y="381.20" width="4.02" height="13.80" fill="#f6ded4"/>
<rect x="121.64" y="394.40" width="4.02" height="13.80" fill="#f7e5dd"/>
<rect x="121.64" y="407.60" width="4.02" height="13.80" fill="#f6c6b0"/>
<rect x="121.64" y="420.80" width="4.02" height="13.80" fill="#f6ded4"/>
<rect x="121.64" y="434.00" width="4.02" height="13.80" fill="#f7f1ee"/>
<rect x="121.64" y="447.20" width="4.02" height="13.20" fill="#ebeff3"/>
<rect x="125.06" y="328.40" width="4.02" height="13.80" fill="#eef1f4"/>
<rect x="125.06" y="341.60" width="4.02" height="13.80" fill="#e4eaf1"/>
<rect x="125.06" y="354.80" width="4.02" height="13.80" fill="#f2f4f5"/>
<rect x="125.06" y="368.00" width="4.02" height="13.80" fill="#f7f7f7"/>
<rect x="125.06" y="381.20" width="4.02" height="13.80" fill="#f7f7f7"/>
<rect x="125.06" y="394.40" width="4.02" height="13.80" fill="#f7f1ee"/>
<rect x="125.06" y="407.60" width="4.02" height="13.80" fill="#f7f1ee"/>
<rect x="125.06" y="420.80" width="4.02" height="13.80" fill="#f7f1ee"/>
<rect x="125.06" y="434.00" width="4.02" height="13.80" fill="#f6ccb9"/>
<rect x="125.06" y="447.20" width="4.02" height="13.20" fill="#f7f1ee"/>
<rect x="128.48" y="328.40" width="4.02" height="13.80" fill="#f7f7f7"/>
<rect x="128.48" y="341.60" width="4.02" height="13.80" fill="#f7f7f7"/>
<rect x="128.48" y="354.80" width="4.02" height="13.80" fill="#dae4ed"/>
<rect x="128.48" y="368.00" width="4.02" height="13.80" fill="#f7f7f7"/>
<rect x="128.48" y="381.20" width="4.02" height="13.80" fill="#f7ebe5"/>
<rect x="128.48" y="394.40" width="4.02" height="13.80" fill="#f7ebe5"/>
<rect x="128.48" y="407.60" width="4.02" height="13.80" fill="#f7f7f7"/>
<rect x="128.48" y="420.80" width="4.02" height="13.80" fill="#f7ebe5"/>
<rect x="128.48" y="434.00" width="4.02" height="13.80" fill="#f6ccb9"/>
<rect x="128.48" y="447.20" width="4.02" height="13.20" fill="#f7ebe5"/>
<rect x="131.89" y="328.40" width="4.02" height="13.80" fill="#f7f1ee"/>
<rect x="131.89" y="341.60" width="4.02" height="13.80" fill="#f7eae5"/>
<rect x="131.89" y="354.80" width="4.02" height="13.80" fill="#dae4ed"/>
<rect x="131.89" y="368.00" width="4.02" height="13.80" fill="#f7eae5"/>
<rect x="131.89" y="381.20" width="4.02" height="13.80" fill="#f7ebe5"/>
<rect x="131.89" y="394.40" width="4.02" height="13.80" fill="#f7f1ee"/>
<rect x="131.89" y="407.60" width="4.02" height="13.80" fill="#ebeff3"/>
<rect x="131.89" y="420.80" width="4.02" height="13.80" fill="#f7f1ee"/>
<rect x="131.89" y="434.00" width="4.02" height="13.80" fill="#f6d8cb"/>
<rect x="131.89" y="447.20" width="4.02" height="13.20" fill="#f7f7f7"/>
<rect x="135.31" y="328.40" width="4.02" height="13.80" fill="#f7f7f7"/>
<rect x="135.31" y="341.60" width="4.02" height="13.80" fill="#f7f7f7"/>
<rect x="135.31" y="354.80" width="4.02" height="13.80" fill="#dae4ed"/>
<rect x="135.31" y="368.00" width="4.02" height="13.80" fill="#f7f7f7"/>
<rect x="135.31" y="381.20" width="4.02" height="13.80" fill="#f7f7f7"/>
<rect x="135.31" y="394.40" width="4.02" height="13.80" fill="#ebeff3"/>
<rect x="135.31" y="407.60" width="4.02" height="13.80" fill="#f7f7f7"/>
<rect x="135.31" y="420.80" width="4.02" height="13.80" fill="#f7ebe5"/>
<rect x="135.31" y="434.00" width="4.02" height="13.80" fill="#f6d8cb"/>
<rect x="135.31" y="447.20" width="4.02" height="13.20" fill="#f7f1ee"/>
<rect x="138.73" y="328.40" width="4.02" height="13.80" fill="#f7f7f7"/>
<rect x="138.73" y="341.60" width="4.02" height="13.80" fill="#dfe7ef"/>
<rect x="138.73" y="354.80" width="4.02" height="13.80" fill="#dae4ed"/>
<rect x="138.73" y="368.00" width="4.02" height="13.80" fill="#eef1f4"/>
<rect x="138.73" y="381.20" width="4.02" height="13.80" fill="#f7f7f7"/>
<rect x="138.73" y="394.40" width="4.02" height="13.80" fill="#f7f7f7"/>
<rect x="138.73" y="407.60" width="4.02" height="13.80" fill="#f7f1ee"/>
<rect x="138.73" y="420.80" width="4.02" height="13.80" fill="#f7f1ee"/>
<rect x="138.73" y="434.00" width="4.02" height="13.80" fill="#f7ebe5"/>
<rect x="138.73" y="447.20" width="4.02" height="13.20" fill="#f7f7f7"/>
<rect x="142.15" y="328.40" width="4.02" height="13.80" fill="#f7f1ee"/>
<rect x="142.15" y="341.60" width="4.02" height="13.80" fill="#d6e1ec"/>
<rect x="142.15" y="354.80" width="4.02" height="13.80" fill="#dae4ed"/>
<rect x="142.15" y="368.00" width="4.02" height="13.80" fill="#f7f7f7"/>
<rect x="142.15" y="381.20" width="4.02" height="13.80" fill="#f7e5dd"/>
<rect x="142.15" y="394.40" width="4.02" height="13.80" fill="#f7f7f7"/>
<rect x="142.15" y="407.60" width="4.02" height="13.80" fill="#f7f7f7"/>
<rect x="142.15" y="420.80" width="4.02" height="13.80" fill="#f7f1ee"/>
<rect x="142.15" y="434.00" width="4.02" height="13.80" fill="#f7e5dd"/>
<rect x="142.15" y="447.20" width="4.02" height="13.20" fill="#f7f1ee"/>
<rect x="145.57" y="328.40" width="4.02" height="13.80" fill="#f7f7f7"/>
<rect x="145.57" y="341.60" width="4.02" height="13.80" fill="#dfe7ef"/>
<rect x="145.57" y="354.80" width="4.02" height="13.80" fill="#f7f7f7"/>
<rect x="145.57" y="368.00" width="4.02" height="13.80" fill="#c8d8e7"/>
<rect x="145.57" y="381.20" width="4.02" height="13.80" fill="#f7f1ee"/>
<rect x="145.57" y="394.40" width="4.02" height="13.80" fill="#f7f7f7"/>
<rect x="145.57" y="407.60" width="4.02" height="13.80" fill="#f7f1ee"/>
<rect x="145.57" y="420.80" width="4.02" height="13.80" fill="#e4ebf1"/>
<rect x="145.57" y="434.00" width="4.02" height="13.80" fill="#f6d2c2"/>
<rect x="145.57" y="447.20" width="4.02" height="13.20" fill="#f7f1ee"/>
<rect x="148.98" y="328.40" width="4.02" height="13.80" fill="#f7f7f7"/>
<rect x="148.98" y="341.60" width="4.02" height="13.80" fill="#dfe7ef"/>
<rect x="148.98" y="354.80" width="4.02" height="13.80" fill="#e4eaf1"/>
<rect x="148.98" y="368.00" width="4.02" height="13.80" fill="#ccdbe9"/>
<rect x="148.98" y="381.20" width="4.02" height="13.80" fill="#f7f1ee"/>
<rect x="148.98" y="394.40" width="4.02" height="13.80" fill="#e4ebf1"/>
<rect x="148.98" y="407.60" width="4.02" height="13.80" fill="#e4ebf1"/>
<rect x="148.98" y="420.80" width="4.02" height="13.80" fill="#f7f7f7"/>
<rect x="148.98" y="434.00" width="4.02" height="13.80" fill="#f7f1ee"/>
<rect x="148.98" y="447.20" width="4.02" height="13.20" fill="#f7f1ee"/>
<rect x="152.40" y="328.40" width="4.02" height="13.80" fill="#f7f7f7"/>
<rect x="152.40" y="341.60" width="4.02" height="13.80" fill="#bed1e4"/>
<rect x="152.40" y="354.80" width="4.02" height="13.80" fill="#dae4ed"/>
<rect x="152.40" y="368.00" width="4.02" height="13.80" fill="#c5d6e6"/>
<rect x="152.40" y="381.20" width="4.02" height="13.80" fill="#f6d7ca"/>
<rect x="152.40" y="394.40" width="4.02" height="13.80" fill="#bed1e4"/>
<rect x="152.40" y="407.60" width="4.02" height="13.80" fill="#c8d8e7"/>
<rect x="152.40" y="420.80" width="4.02" height="13.80" fill="#f7f7f7"/>
<rect x="152.40" y="434.00" width="4.02" height="13.80" fill="#f7f7f7"/>
<rect x="152.40" y="447.20" width="4.02" height="13.20" fill="#f7efec"/>
<rect x="155.82" y="328.40" width="4.02" height="13.80" fill="#8ab0d3"/>
<rect x="155.82" y="341.60" width="4.02" height="13.80" fill="#b7cce1"/>
<rect x="155.82" y="354.80" width="4.02" height="13.80" fill="#ccdbe9"/>
<rect x="155.82" y="368.00" width="4.02" height="13.80" fill="#c5d6e6"/>
<rect x="155.82" y="381.20" width="4.02" height="13.80" fill="#f5b091"/>
<rect x="155.82" y="394.40" width="4.02" height="13.80" fill="#f5a886"/>
<rect x="155.82" y="407.60" width="4.02" height="13.80" fill="#f5b89d"/>
<rect x="155.82" y="420.80" width="4.02" height="13.80" fill="#ed734d"/>
<rect x="155.82" y="434.00" width="4.02" height="13.80" fill="#f5a886"/>
<rect x="155.82" y="447.20" width="4.02" height="13.20" fill="#f5b091"/>
<rect x="159.24" y="328.40" width="4.02" height="13.80" fill="#8ab0d3"/>
<rect x="159.24" y="341.60" width="4.02" height="13.80" fill="#b7cce1"/>
<rect x="159.24" y="354.80" width="4.02" height="13.80" fill="#a9c3dd"/>
<rect x="159.24" y="368.00" width="4.02" height="13.80" fill="#e2e9f0"/>
<rect x="159.24" y="381.20" width="4.02" height="13.80" fill="#f4a07e"/>
<rect x="159.24" y="394.40" width="4.02" height="13.80" fill="#f5a886"/>
<rect x="159.24" y="407.60" width="4.02" height="13.80" fill="#f5b091"/>
<rect x="159.24" y="420.80" width="4.02" height="13.80" fill="#f2916d"/>
<rect x="159.24" y="434.00" width="4.02" height="13.80" fill="#f5a886"/>
<rect x="159.24" y="447.20" width="4.02" height="13.20" fill="#f5b89d"/>
<rect x="162.66" y="328.40" width="4.02" height="13.80" fill="#78a7cf"/>
<rect x="162.66" y="341.60" width="4.02" height="13.80" fill="#bed1e4"/>
<rect x="162.66" y="354.80" width="4.02" height="13.80" fill="#b0c8df"/>
<rect x="162.66" y="368.00" width="4.02" height="13.80" fill="#a2beda"/>
<rect x="162.66" y="381.20" width="4.02" height="13.80" fill="#f39976"/>
<rect x="162.66" y="394.40" width="4.02" height="13.80" fill="#f5a886"/>
<rect x="162.66" y="407.60" width="4.02" height="13.80" fill="#f5b89d"/>
<rect x="162.66" y="420.80" width="4.02" height="13.80" fill="#f5a886"/>
<rect x="162.66" y="434.00" width="4.02" height="13.80" fill="#f6d0be"/>
<rect x="162.66" y="447.20" width="4.02" height="13.20" fill="#f5b89d"/>
<rect x="166.07" y="328.40" width="4.02" height="13.80" fill="#6fa2cd"/>
<rect x="166.07" y="341.60" width="4.02" height="13.80" fill="#bed1e4"/>
<rect x="166.07" y="354.80" width="4.02" height="13.80" fill="#b0c8df"/>
<rect x="166.07" y="368.00" width="4.02" height="13.80" fill="#a9c3dd"/>
<rect x="166.07" y="381.20" width="4.02" height="13.80" fill="#f6d0be"/>
<rect x="166.07" y="394.40" width="4.02" height="13.80" fill="#f5a886"/>
<rect x="166.07" y="407.60" width="4.02" height="13.80" fill="#f6c8b3"/>
<rect x="166.07" y="420.80" width="4.02" height="13.80" fill="#f5a886"/>
<rect x="166.07" y="434.00" width="4.02" height="13.80" fill="#f5b89d"/>
<rect x="166.07" y="447.20" width="4.02" height="13.20" fill="#f5b091"/>
<rect x="169.49" y="328.40" width="4.02" height="13.80" fill="#8ab0d3"/>
<rect x="169.49" y="341.60" width="4.02" height="13.80" fill="#b0c8df"/>
<rect x="169.49" y="354.80" width="4.02" height="13.80" fill="#c5d6e6"/>
<rect x="169.49" y="368.00" width="4.02" height="13.80" fill="#92b5d6"/>
<rect x="169.49" y="381.20" width="4.02" height="13.80" fill="#f5a886"/>
<rect x="169.49" y="394.40" width="4.02" height="13.80" fill="#f5a886"/>
<rect x="169.49" y="407.60" width="4.02" height="13.80" fill="#f5b091"/>
<rect x="169.49" y="420.80" width="4.02" height="13.80" fill="#f5a886"/>
<rect x="169.49" y="434.00" width="4.02" height="13.80" fill="#f5a886"/>
<rect x="169.49" y="447.20" width="4.02" height="13.20" fill="#f5b091"/>
<rect x="172.91" y="328.40" width="4.02" height="13.80" fill="#9abad8"/>
<rect x="172.91" y="341.60" width="4.02" height="13.80" fill="#c5d6e6"/>
<rect x="172.91" y="354.80" width="4.02" height="13.80" fill="#dae4ed"/>
<rect x="172.91" y="368.00" width="4.02" height="13.80" fill="#ccdbe9"/>
<rect x="172.91" y="381.20" width="4.02" height="13.80" fill="#f5a886"/>
<rect x="172.91" y="394.40" width="4.02" height="13.80" fill="#f6c8b3"/>
<rect x="172.91" y="407.60" width="4.02" height="13.80" fill="#f6d0be"/>
<rect x="172.91" y="420.80" width="4.02" height="13.80" fill="#f6c8b3"/>
<rect x="172.91" y="434.00" width="4.02" height="13.80" fill="#f6d7ca"/>
<rect x="172.91" y="447.20" width="4.02" height="13.20" fill="#f5b091"/>
<rect x="176.33" y="328.40" width="4.02" height="13.80" fill="#81abd1"/>
<rect x="176.33" y="341.60" width="4.02" height="13.80" fill="#b7cce1"/>
<rect x="176.33" y="354.80" width="4.02" height="13.80" fill="#c5d6e6"/>
<rect x="176.33" y="368.00" width="4.02" height="13.80" fill="#a9c3dd"/>
<rect x="176.33" y="381.20" width="4.02" height="13.80" fill="#f5b89d"/>
<rect x="176.33" y="394.40" width="4.02" height="13.80" fill="#f4a07e"/>
<rect x="176.33" y="407.60" width="4.02" height="13.80" fill="#f6dfd5"/>
<rect x="176.33" y="420.80" width="4.02" height="13.80" fill="#f6c8b3"/>
<rect x="176.33" y="434.00" width="4.02" height="13.80" fill="#f5b89d"/>
<rect x="176.33" y="447.20" width="4.02" height="13.20" fill="#f5b89d"/>
<rect x="179.75" y="328.40" width="4.02" height="13.80" fill="#92b5d6"/>
<rect x="179.75" y="341.60" width="4.02" height="13.80" fill="#a9c3dd"/>
<rect x="179.75" y="354.80" width="4.02" height="13.80" fill="#b0c8df"/>
<rect x="179.75" y="368.00" width="4.02" height="13.80" fill="#a9c3dd"/>
<rect x="179.75" y="381.20" width="4.02" height="13.80" fill="#f4a07e"/>
<rect x="179.75" y="394.40" width="4.02" height="13.80" fill="#f4a07e"/>
<rect x="179.75" y="407.60" width="4.02" height="13.80" fill="#f5b89d"/>
<rect x="179.75" y="420.80" width="4.02" height="13.80" fill="#f6c8b3"/>
<rect x="179.75" y="434.00" width="4.02" height="13.80" fill="#f5b89d"/>
<rect x="179.75" y="447.20" width="4.02" height="13.20" fill="#f6d7ca"/>
<rect x="183.16" y="328.40" width="4.02" height="13.80" fill="#92b5d6"/>
<rect x="183.16" y="341.60" width="4.02" height="13.80" fill="#a2beda"/>
<rect x="183.16" y="354.80" width="4.02" height="13.80" fill="#a9c3dd"/>
<rect x="183.16" y="368.00" width="4.02" height="13.80" fill="#a2beda"/>
<rect x="183.16" y="381.20" width="4.02" height="13.80" fill="#f6d7ca"/>
<rect x="183.16" y="394.40" width="4.02" height="13.80" fill="#f5a886"/>
<rect x="183.16" y="407.60" width="4.02" height="13.80" fill="#f6c8b3"/>
<rect x="183.16" y="420.80" width="4.02" height="13.80" fill="#f6d0be"/>
<rect x="183.16" y="434.00" width="4.02" height="13.80" fill="#f6dfd5"/>
<rect x="183.16" y="447.20" width="4.02" height="13.20" fill="#f6d0be"/>
<rect x="186.58" y="328.40" width="4.02" height="13.80" fill="#f7f7f7"/>
<rect x="186.58" y="341.60" width="4.02" height="13.80" fill="#9abad8"/>
<rect x="186.58" y="354.80" width="4.02" height="13.80" fill="#a2beda"/>
<rect x="186.58" y="368.00" width="4.02" height="13.80" fill="#9abad8"/>
<rect x="186.58" y="381.20" width="4.02" height="13.80" fill="#f6d7ca"/>
<rect x="186.58" y="394.40" width="4.02" height="13.80" fill="#f6dfd5"/>
<rect x="186.58" y="407.60" width="4.02" height="13.80" fill="#f6d7ca"/>
<rect x="186.58" y="420.80" width="4.02" height="13.80" fill="#f5b89d"/>
<rect x="186.58" y="434.00" width="4.02" height="13.80" fill="#f5b89d"/>
<rect x="186.58" y="447.20" width="4.02" height="13.20" fill="#f7e7e0"/>
<rect x="190.00" y="328.40" width="4.02" height="13.80" fill="#92b5d6"/>
<rect x="190.00" y="341.60" width="4.02" height="13.80" fill="#b0c8df"/>
<rect x="190.00" y="354.80" width="4.02" height="13.80" fill="#a2beda"/>
<rect x="190.00" y="368.00" width="4.02" height="13.80" fill="#ccdbe9"/>
<rect x="190.00" y="381.20" width="4.02" height="13.80" fill="#f7e7e0"/>
<rect x="190.00" y="394.40" width="4.02" height="13.80" fill="#f6c0a8"/>
<rect x="190.00" y="407.60" width="4.02" height="13.80" fill="#f6c8b3"/>
<rect x="190.00" y="420.80" width="4.02" height="13.80" fill="#f4a07e"/>
<rect x="190.00" y="434.00" width="4.02" height="13.80" fill="#f5b091"/>
<rect x="190.00" y="447.20" width="4.02" height="13.20" fill="#f6c0a8"/>
<rect x="193.42" y="328.40" width="4.02" height="13.80" fill="#9abad8"/>
<rect x="193.42" y="341.60" width="4.02" height="13.80" fill="#9abad8"/>
<rect x="193.42" y="354.80" width="4.02" height="13.80" fill="#a2beda"/>
<rect x="193.42" y="368.00" width="4.02" height="13.80" fill="#bed1e4"/>
<rect x="193.42" y="381.20" width="4.02" height="13.80" fill="#f7efec"/>
<rect x="193.42" y="394.40" width="4.02" height="13.80" fill="#f6dfd5"/>
<rect x="193.42" y="407.60" width="4.02" height="13.80" fill="#f6d7ca"/>
<rect x="193.42" y="420.80" width="4.02" height="13.80" fill="#f5b89d"/>
<rect x="193.42" y="434.00" width="4.02" height="13.80" fill="#f39976"/>
<rect x="193.42" y="447.20" width="4.02" height="13.20" fill="#f6d0be"/>
<rect x="196.84" y="328.40" width="4.02" height="13.80" fill="#c8d8e7"/>
<rect x="196.84" y="341.60" width="4.02" height="13.80" fill="#2479ba"/>
<rect x="196.84" y="354.80" width="4.02" height="13.80" fill="#2479ba"/>
<rect x="196.84" y="368.00" width="4.02" height="13.80" fill="#2479ba"/>
<rect x="196.84" y="381.20" width="4.02" height="13.80" fill="#f6c0a8"/>
<rect x="196.84" y="394.40" width="4.02" height="13.80" fill="#f6c0a8"/>
<rect x="196.84" y="407.60" width="4.02" height="13.80" fill="#f18a65"/>
<rect x="196.84" y="420.80" width="4.02" height="13.80" fill="#f5a886"/>
<rect x="196.84" y="434.00" width="4.02" height="13.80" fill="#f0825d"/>
<rect x="196.84" y="447.20" width="4.02" height="13.20" fill="#f5b89d"/>
<rect x="200.25" y="328.40" width="4.02" height="13.80" fill="#d1deea"/>
<rect x="200.25" y="341.60" width="4.02" height="13.80" fill="#2479ba"/>
<rect x="200.25" y="354.80" width="4.02" height="13.80" fill="#3b86c0"/>
<rect x="200.25" y="368.00" width="4.02" height="13.80" fill="#2479ba"/>
<rect x="200.25" y="381.20" width="4.02" height="13.80" fill="#f6c0a8"/>
<rect x="200.25" y="394.40" width="4.02" height="13.80" fill="#f7e7e0"/>
<rect x="200.25" y="407.60" width="4.02" height="13.80" fill="#f2916d"/>
<rect x="200.25" y="420.80" width="4.02" height="13.80" fill="#f5b091"/>
<rect x="200.25" y="434.00" width="4.02" height="13.80" fill="#f18a65"/>
<rect x="200.25" y="447.20" width="4.02" height="13.20" fill="#f5b89d"/>
<rect x="203.67" y="328.40" width="4.02" height="13.80" fill="#98b8d7"/>
<rect x="203.67" y="341.60" width="4.02" height="13.80" fill="#2479ba"/>
<rect x="203.67" y="354.80" width="4.02" height="13.80" fill="#6a9fcb"/>
<rect x="203.67" y="368.00" width="4.02" height="13.80" fill="#3b86c0"/>
<rect x="203.67" y="381.20" width="4.02" height="13.80" fill="#f7f7f7"/>
<rect x="203.67" y="394.40" width="4.02" height="13.80" fill="#f6d7ca"/>
<rect x="203.67" y="407.60" width="4.02" height="13.80" fill="#f7efec"/>
<rect x="203.67" y="420.80" width="4.02" height="13.80" fill="#f7e7e0"/>
<rect x="203.67" y="434.00" width="4.02" height="13.80" fill="#f7efec"/>
<rect x="203.67" y="447.20" width="4.02" height="13.20" fill="#f6dfd5"/>
<rect x="207.09" y="328.40" width="4.02" height="13.80" fill="#d1deea"/>
<rect x="207.09" y="341.60" width="4.02" height="13.80" fill="#6a9fcb"/>
<rect x="207.09" y="354.80" width="4.02" height="13.80" fill="#a2beda"/>
<rect x="207.09" y="368.00" width="4.02" height="13.80" fill="#75a5ce"/>
<rect x="207.09" y="381.20" width="4.02" height="13.80" fill="#f7efec"/>
<rect x="207.09" y="394.40" width="4.02" height="13.80" fill="#f6d7ca"/>
<rect x="207.09" y="407.60" width="4.02" height="13.80" fill="#eef1f4"/>
<rect x="207.09" y="420.80" width="4.02" height="13.80" fill="#81abd1"/>
<rect x="207.09" y="434.00" width="4.02" height="13.80" fill="#f7efec"/>
<rect x="207.09" y="447.20" width="4.02" height="13.20" fill="#f7f7f7"/>
<rect x="210.51" y="328.40" width="4.02" height="13.80" fill="#dae4ed"/>
<rect x="210.51" y="341.60" width="4.02" height="13.80" fill="#5e98c8"/>
<rect x="210.51" y="354.80" width="4.02" height="13.80" fill="#6a9fcb"/>
<rect x="210.51" y="368.00" width="4.02" height="13.80" fill="#6a9fcb"/>
<rect x="210.51" y="381.20" width="4.02" height="13.80" fill="#f7f7f7"/>
<rect x="210.51" y="394.40" width="4.02" height="13.80" fill="#f6dfd5"/>
<rect x="210.51" y="407.60" width="4.02" height="13.80" fill="#e4eaf1"/>
<rect x="210.51" y="420.80" width="4.02" height="13.80" fill="#dae4ed"/>
<rect x="210.51" y="434.00" width="4.02" height="13.80" fill="#f7f7f7"/>
<rect x="210.51" y="447.20" width="4.02" height="13.20" fill="#c8d8e7"/>
<rect x="213.93" y="328.40" width="4.02" height="13.80" fill="#f7efec"/>
<rect x="213.93" y="341.60" width="4.02" height="13.80" fill="#f6c8b3"/>
<rect x="213.93" y="354.80" width="4.02" height="13.80" fill="#f6d7ca"/>
<rect x="213.93" y="368.00" width="4.02" height="13.80" fill="#f6d7ca"/>
<rect x="213.93" y="381.20" width="4.02" height="13.80" fill="#f7f7f7"/>
<rect x="213.93" y="394.40" width="4.02" height="13.80" fill="#f7efec"/>
<rect x="213.93" y="407.60" width="4.02" height="13.80" fill="#dae4ed"/>
<rect x="213.93" y="420.80" width="4.02" height="13.80" fill="#f7e7e0"/>
<rect x="213.93" y="434.00" width="4.02" height="13.80" fill="#eef1f4"/>
<rect x="213.93" y="447.20" width="4.02" height="13.20" fill="#e4eaf1"/>
<rect x="217.34" y="328.40" width="4.02" height="13.80" fill="#f6dfd5"/>
<rect x="217.34" y="341.60" width="4.02" height="13.80" fill="#f5b89d"/>
<rect x="217.34" y="354.80" width="4.02" height="13.80" fill="#f6d0be"/>
<rect x="217.34" y="368.00" width="4.02" height="13.80" fill="#f6d0be"/>
<rect x="217.34" y="381.20" width="4.02" height="13.80" fill="#f7f7f7"/>
<rect x="217.34" y="394.40" width="4.02" height="13.80" fill="#f7efec"/>
<rect x="217.34" y="407.60" width="4.02" height="13.80" fill="#e4eaf1"/>
<rect x="217.34" y="420.80" width="4.02" height="13.80" fill="#f7efec"/>
<rect x="217.34" y="434.00" width="4.02" height="13.80" fill="#f7f7f7"/>
<rect x="217.34" y="447.20" width="4.02" height="13.20" fill="#dae4ed"/>
<rect x="220.76" y="328.40" width="4.02" height="13.80" fill="#f7f7f7"/>
<rect x="220.76" y="341.60" width="4.02" height="13.80" fill="#f6d7ca"/>
<rect x="220.76" y="354.80" width="4.02" height="13.80" fill="#f7e7e0"/>
<rect x="220.76" y="368.00" width="4.02" height="13.80" fill="#f7e7e0"/>
<rect x="220.76" y="381.20" width="4.02" height="13.80" fill="#f7efec"/>
<rect x="220.76" y="394.40" width="4.02" height="13.80" fill="#f7efec"/>
<rect x="220.76" y="407.60" width="4.02" height="13.80" fill="#f7f7f7"/>
<rect x="220.76" y="420.80" width="4.02" height="13.80" fill="#f6dfd5"/>
<rect x="220.76" y="434.00" width="4.02" height="13.80" fill="#e4eaf1"/>
<rect x="220.76" y="447.20" width="4.02" height="13.20" fill="#f7f7f7"/>
<rect x="224.18" y="328.40" width="4.02" height="13.80" fill="#f7efec"/>
<rect x="224.18" y="341.60" width="4.02" height="13.80" fill="#f5b89d"/>
<rect x="224.18" y="354.80" width="4.02" height="13.80" fill="#f5b091"/>
<rect x="224.18" y="368.00" width="4.02" height="13.80" fill="#f6d0be"/>
<rect x="224.18" y="381.20" width="4.02" height="13.80" fill="#f7f7f7"/>
<rect x="224.18" y="394.40" width="4.02" height="13.80" fill="#f7efec"/>
<rect x="224.18" y="407.60" width="4.02" height="13.80" fill="#98b8d7"/>
<rect x="224.18" y="420.80" width="4.02" height="13.80" fill="#f7efec"/>
<rect x="224.18" y="434.00" width="4.02" height="13.80" fill="#f7f7f7"/>
<rect x="224.18" y="447.20" width="4.02" height="13.20" fill="#dae4ed"/>
<rect x="227.60" y="328.40" width="4.02" height="13.80" fill="#f7e7e0"/>
<rect x="227.60" y="341.60" width="4.02" height="13.80" fill="#f6d0be"/>
<rect x="227.60" y="354.80" width="4.02" height="13.80" fill="#f6dfd5"/>
<rect x="227.60" y="368.00" width="4.02" height="13.80" fill="#f6dfd5"/>
<rect x="227.60" y="381.20" width="4.02" height="13.80" fill="#e4eaf1"/>
<rect x="227.60" y="394.40" width="4.02" height="13.80" fill="#f6d7ca"/>
<rect x="227.60" y="407.60" width="4.02" height="13.80" fill="#f7f7f7"/>
<rect x="227.60" y="420.80" width="4.02" height="13.80" fill="#f7e7e0"/>
<rect x="227.60" y="434.00" width="4.02" height="13.80" fill="#f7f7f7"/>
<rect x="227.60" y="447.20" width="4.02" height="13.20" fill="#e4eaf1"/>
<rect x="231.02" y="328.40" width="4.02" height="13.80" fill="#f7efec"/>
<rect x="231.02" y="341.60" width="4.02" height="13.80" fill="#f7e7e0"/>
<rect x="231.02" y="354.80" width="4.02" height="13.80" fill="#f7f7f7"/>
<rect x="231.02" y="368.00" width="4.02" height="13.80" fill="#f7e7e0"/>
<rect x="231.02" y="381.20" width="4.02" height="13.80" fill="#f7f7f7"/>
<rect x="231.02" y="394.40" width="4.02" height="13.80" fill="#f6dfd5"/>
<rect x="231.02" y="407.60" width="4.02" height="13.80" fill="#e4eaf1"/>
<rect x="231.02" y="420.80" width="4.02" height="13.80" fill="#f7f7f7"/>
<rect x="231.02" y="434.00" width="4.02" height="13.80" fill="#dae4ed"/>
<rect x="231.02" y="447.20" width="4.02" height="13.20" fill="#f7f7f7"/>
<rect x="234.43" y="328.40" width="4.02" height="13.80" fill="#f7f7f7"/>
<rect x="234.43" y="341.60" width="4.02" height="13.80" fill="#f7e7e0"/>
<rect x="234.43" y="354.80" width="4.02" height="13.80" fill="#f7efec"/>
<rect x="234.43" y="368.00" width="4.02" height="13.80" fill="#f7e7e0"/>
<rect x="234.43" y="381.20" width="4.02" height="13.80" fill="#eef1f4"/>
<rect x="234.43" y="394.40" width="4.02" height="13.80" fill="#f6d7ca"/>
<rect x="234.43" y="407.60" width="4.02" height="13.80" fill="#f7f7f7"/>
<rect x="234.43" y="420.80" width="4.02" height="13.80" fill="#c8d8e7"/>
<rect x="234.43" y="434.00" width="4.02" height="13.80" fill="#f7efec"/>
<rect x="234.43" y="447.20" width="4.02" height="13.20" fill="#dae4ed"/>
<rect x="237.85" y="328.40" width="4.02" height="13.80" fill="#f7efec"/>
<rect x="237.85" y="341.60" width="4.02" height="13.80" fill="#f7efec"/>
<rect x="237.85" y="354.80" width="4.02" height="13.80" fill="#f7e7e0"/>
<rect x="237.85" y="368.00" width="4.02" height="13.80" fill="#f7e7e0"/>
<rect x="237.85" y="381.20" width="4.02" height="13.80" fill="#f7f7f7"/>
<rect x="237.85" y="394.40" width="4.02" height="13.80" fill="#f7e7e0"/>
<rect x="237.85" y="407.60" width="4.02" height="13.80" fill="#f7f7f7"/>
<rect x="237.85" y="420.80" width="4.02" height="13.80" fill="#f7f7f7"/>
<rect x="237.85" y="434.00" width="4.02" height="13.80" fill="#f6c0a8"/>
<rect x="237.85" y="447.20" width="4.02" height="13.20" fill="#f7efec"/>
<rect x="241.27" y="328.40" width="4.02" height="13.80" fill="#f6d7ca"/>
<rect x="241.27" y="341.60" width="4.02" height="13.80" fill="#f6d7ca"/>
<rect x="241.27" y="354.80" width="4.02" height="13.80" fill="#f6d7ca"/>
<rect x="241.27" y="368.00" width="4.02" height="13.80" fill="#f7efec"/>
<rect x="241.27" y="381.20" width="4.02" height="13.80" fill="#e0e8ef"/>
<rect x="241.27" y="394.40" width="4.02" height="13.80" fill="#c9d9e8"/>
<rect x="241.27" y="407.60" width="4.02" height="13.80" fill="#d5e0eb"/>
<rect x="241.27" y="420.80" width="4.02" height="13.80" fill="#bed1e4"/>
<rect x="241.27" y="434.00" width="4.02" height="13.80" fill="#f6c8b3"/>
<rect x="241.27" y="447.20" width="4.02" height="13.20" fill="#bed1e4"/>
<rect x="244.69" y="328.40" width="4.02" height="13.80" fill="#f6dfd5"/>
<rect x="244.69" y="341.60" width="4.02" height="13.80" fill="#f6dfd5"/>
<rect x="244.69" y="354.80" width="4.02" height="13.80" fill="#f7e7e0"/>
<rect x="244.69" y="368.00" width="4.02" height="13.80" fill="#f7e7e0"/>
<rect x="244.69" y="381.20" width="4.02" height="13.80" fill="#e0e8ef"/>
<rect x="244.69" y="394.40" width="4.02" height="13.80" fill="#c9d9e8"/>
<rect x="244.69" y="407.60" width="4.02" height="13.80" fill="#f7f7f7"/>
<rect x="244.69" y="420.80" width="4.02" height="13.80" fill="#c9d9e8"/>
<rect x="244.69" y="434.00" width="4.02" height="13.80" fill="#f7efec"/>
<rect x="244.69" y="447.20" width="4.02" height="13.20" fill="#f7efec"/>
<rect x="248.11" y="328.40" width="4.02" height="13.80" fill="#f7e7e0"/>
<rect x="248.11" y="341.60" width="4.02" height="13.80" fill="#f7e7e0"/>
<rect x="248.11" y="354.80" width="4.02" height="13.80" fill="#f7f7f7"/>
<rect x="248.11" y="368.00" width="4.02" height="13.80" fill="#eef1f4"/>
<rect x="248.11" y="381.20" width="4.02" height="13.80" fill="#d5e0eb"/>
<rect x="248.11" y="394.40" width="4.02" height="13.80" fill="#d5e0eb"/>
<rect x="248.11" y="407.60" width="4.02" height="13.80" fill="#d5e0eb"/>
<rect x="248.11" y="420.80" width="4.02" height="13.80" fill="#c9d9e8"/>
<rect x="248.11" y="434.00" width="4.02" height="13.80" fill="#e0e8ef"/>
<rect x="248.11" y="447.20" width="4.02" height="13.20" fill="#f7f7f7"/>
<rect x="251.52" y="328.40" width="4.02" height="13.80" fill="#f5a886"/>
<rect x="251.52" y="341.60" width="4.02" height="13.80" fill="#f6d7ca"/>
<rect x="251.52" y="354.80" width="4.02" height="13.80" fill="#f7e7e0"/>
<rect x="251.52" y="368.00" width="4.02" height="13.80" fill="#f7f7f7"/>
<rect x="251.52" y="381.20" width="4.02" height="13.80" fill="#e0e8ef"/>
<rect x="251.52" y="394.40" width="4.02" height="13.80" fill="#d5e0eb"/>
<rect x="251.52" y="407.60" width="4.02" height="13.80" fill="#d5e0eb"/>
<rect x="251.52" y="420.80" width="4.02" height="13.80" fill="#d5e0eb"/>
<rect x="251.52" y="434.00" width="4.02" height="13.80" fill="#f7f7f7"/>
<rect x="251.52" y="447.20" width="4.02" height="13.20" fill="#b3cae0"/>
<rect x="254.94" y="328.40" width="4.02" height="13.80" fill="#f5b091"/>
<rect x="254.94" y="341.60" width="4.02" height="13.80" fill="#f7e7e0"/>
<rect x="254.94" y="354.80" width="4.02" height="13.80" fill="#f7efec"/>
<rect x="254.94" y="368.00" width="4.02" height="13.80" fill="#f7f7f7"/>
<rect x="254.94" y="381.20" width="4.02" height="13.80" fill="#f7f7f7"/>
<rect x="254.94" y="394.40" width="4.02" height="13.80" fill="#c9d9e8"/>
<rect x="254.94" y="407.60" width="4.02" height="13.80" fill="#f7efec"/>
<rect x="254.94" y="420.80" width="4.02" height="13.80" fill="#b3cae0"/>
<rect x="254.94" y="434.00" width="4.02" height="13.80" fill="#f7e7e0"/>
<rect x="254.94" y="447.20" width="4.02" height="13.20" fill="#f7f7f7"/>
<rect x="258.36" y="328.40" width="4.02" height="13.80" fill="#f6c8b3"/>
<rect x="258.36" y="341.60" width="4.02" height="13.80" fill="#f7efec"/>
<rect x="258.36" y="354.80" width="4.02" height="13.80" fill="#f7e7e0"/>
<rect x="258.36" y="368.00" width="4.02" height="13.80" fill="#f7f7f7"/>
<rect x="258.36" y="381.20" width="4.02" height="13.80" fill="#8fb3d5"/>
<rect x="258.36" y="394.40" width="4.02" height="13.80" fill="#9cbbd8"/>
<rect x="258.36" y="407.60" width="4.02" height="13.80" fill="#f7f7f7"/>
<rect x="258.36" y="420.80" width="4.02" height="13.80" fill="#f7f7f7"/>
<rect x="258.36" y="434.00" width="4.02" height="13.80" fill="#c9d9e8"/>
<rect x="258.36" y="447.20" width="4.02" height="13.20" fill="#f7f7f7"/>
<rect x="261.78" y="328.40" width="4.02" height="13.80" fill="#f5a886"/>
<rect x="261.78" y="341.60" width="4.02" height="13.80" fill="#f6d0be"/>
<rect x="261.78" y="354.80" width="4.02" height="13.80" fill="#f6dfd5"/>
<rect x="261.78" y="368.00" width="4.02" height="13.80" fill="#f6dfd5"/>
<rect x="261.78" y="381.20" width="4.02" height="13.80" fill="#8fb3d5"/>
<rect x="261.78" y="394.40" width="4.02" height="13.80" fill="#f7e7e0"/>
<rect x="261.78" y="407.60" width="4.02" height="13.80" fill="#a7c2dc"/>
<rect x="261.78" y="420.80" width="4.02" height="13.80" fill="#b3cae0"/>
<rect x="261.78" y="434.00" width="4.02" height="13.80" fill="#f7f7f7"/>
<rect x="261.78" y="447.20" width="4.02" height="13.20" fill="#f6dfd5"/>
<rect x="265.20" y="328.40" width="4.02" height="13.80" fill="#f6c0a8"/>
<rect x="265.20" y="341.60" width="4.02" height="13.80" fill="#f5b091"/>
<rect x="265.20" y="354.80" width="4.02" height="13.80" fill="#f6c0a8"/>
<rect x="265.20" y="368.00" width="4.02" height="13.80" fill="#f5b091"/>
<rect x="265.20" y="381.20" width="4.02" height="13.80" fill="#bed1e4"/>
<rect x="265.20" y="394.40" width="4.02" height="13.80" fill="#d5e0eb"/>
<rect x="265.20" y="407.60" width="4.02" height="13.80" fill="#a7c2dc"/>
<rect x="265.20" y="420.80" width="4.02" height="13.80" fill="#9cbbd8"/>
<rect x="265.20" y="434.00" width="4.02" height="13.80" fill="#bed1e4"/>
<rect x="265.20" y="447.20" width="4.02" height="13.20" fill="#f6dfd5"/>
<rect x="268.61" y="328.40" width="4.02" height="13.80" fill="#f7f7f7"/>
<rect x="268.61" y="341.60" width="4.02" height="13.80" fill="#f5b89d"/>
<rect x="268.61" y="354.80" width="4.02" height="13.80" fill="#f5b89d"/>
<rect x="268.61" y="368.00" width="4.02" height="13.80" fill="#f5b89d"/>
<rect x="268.61" y="381.20" width="4.02" height="13.80" fill="#e0e8ef"/>
<rect x="268.61" y="394.40" width="4.02" height="13.80" fill="#f7f7f7"/>
<rect x="268.61" y="407.60" width="4.02" height="13.80" fill="#a7c2dc"/>
<rect x="268.61" y="420.80" width="4.02" height="13.80" fill="#9cbbd8"/>
<rect x="268.61" y="434.00" width="4.02" height="13.80" fill="#f7efec"/>
<rect x="268.61" y="447.20" width="4.02" height="13.20" fill="#f7e7e0"/>
<rect x="272.03" y="328.40" width="4.02" height="13.80" fill="#f7efec"/>
<rect x="272.03" y="341.60" width="4.02" height="13.80" fill="#f5b091"/>
<rect x="272.03" y="354.80" width="4.02" height="13.80" fill="#f5b89d"/>
<rect x="272.03" y="368.00" width="4.02" height="13.80" fill="#f6d0be"/>
<rect x="272.03" y="381.20" width="4.02" height="13.80" fill="#9cbbd8"/>
<rect x="272.03" y="394.40" width="4.02" height="13.80" fill="#d5e0eb"/>
<rect x="272.03" y="407.60" width="4.02" height="13.80" fill="#b3cae0"/>
<rect x="272.03" y="420.80" width="4.02" height="13.80" fill="#bed1e4"/>
<rect x="272.03" y="434.00" width="4.02" height="13.80" fill="#c9d9e8"/>
<rect x="272.03" y="447.20" width="4.02" height="13.20" fill="#e0e8ef"/>
<rect x="275.45" y="328.40" width="4.02" height="13.80" fill="#f7e7e0"/>
<rect x="275.45" y="341.60" width="4.02" height="13.80" fill="#f6c0a8"/>
<rect x="275.45" y="354.80" width="4.02" height="13.80" fill="#f6d0be"/>
<rect x="275.45" y="368.00" width="4.02" height="13.80" fill="#f6c0a8"/>
<rect x="275.45" y="381.20" width="4.02" height="13.80" fill="#f7e7e0"/>
<rect x="275.45" y="394.40" width="4.02" height="13.80" fill="#f7f7f7"/>
<rect x="275.45" y="407.60" width="4.02" height="13.80" fill="#d5e0eb"/>
<rect x="275.45" y="420.80" width="4.02" height="13.80" fill="#a7c2dc"/>
<rect x="275.45" y="434.00" width="4.02" height="13.80" fill="#f7f7f7"/>
<rect x="275.45" y="447.20" width="4.02" height="13.20" fill="#d5e0eb"/>
<rect x="278.87" y="328.40" width="4.02" height="13.80" fill="#f7efec"/>
<rect x="278.87" y="341.60" width="4.02" height="13.80" fill="#f6d7ca"/>
<rect x="278.87" y="354.80" width="4.02" height="13.80" fill="#f7f7f7"/>
<rect x="278.87" y="368.00" width="4.02" height="13.80" fill="#f6dfd5"/>
<rect x="278.87" y="381.20" width="4.02" height="13.80" fill="#f6d7ca"/>
<rect x="278.87" y="394.40" width="4.02" height="13.80" fill="#659cca"/>
<rect x="278.87" y="407.60" width="4.02" height="13.80" fill="#f7f7f7"/>
<rect x="278.87" y="420.80" width="4.02" height="13.80" fill="#f7f7f7"/>
<rect x="278.87" y="434.00" width="4.02" height="13.80" fill="#f7f7f7"/>
<rect x="278.87" y="447.20" width="4.02" height="13.20" fill="#d5e0eb"/>
<rect x="282.29" y="328.40" width="4.02" height="13.80" fill="#f6dfd5"/>
<rect x="282.29" y="341.60" width="4.02" height="13.80" fill="#f6dfd5"/>
<rect x="282.29" y="354.80" width="4.02" height="13.80" fill="#f7efec"/>
<rect x="282.29" y="368.00" width="4.02" height="13.80" fill="#f6dfd5"/>
<rect x="282.29" y="381.20" width="4.02" height="13.80" fill="#f7e7e0"/>
<rect x="282.29" y="394.40" width="4.02" height="13.80" fill="#bed1e4"/>
<rect x="282.29" y="407.60" width="4.02" height="13.80" fill="#bed1e4"/>
<rect x="282.29" y="420.80" width="4.02" height="13.80" fill="#a7c2dc"/>
<rect x="282.29" y="434.00" width="4.02" height="13.80" fill="#d5e0eb"/>
<rect x="282.29" y="447.20" width="4.02" height="13.20" fill="#f7f7f7"/>
<rect x="285.70" y="328.40" width="4.02" height="13.80" fill="#f7f7f7"/>
<rect x="285.70" y="341.60" width="4.02" height="13.80" fill="#f6d7ca"/>
<rect x="285.70" y="354.80" width="4.02" height="13.80" fill="#f7f7f7"/>
<rect x="285.70" y="368.00" width="4.02" height="13.80" fill="#f7efec"/>
<rect x="285.70" y="381.20" width="4.02" height="13.80" fill="#f7f7f7"/>
<rect x="285.70" y="394.40" width="4.02" height="13.80" fill="#c9d9e8"/>
<rect x="285.70" y="407.60" width="4.02" height="13.80" fill="#bed1e4"/>
<rect x="285.70" y="420.80" width="4.02" height="13.80" fill="#9cbbd8"/>
<rect x="285.70" y="434.00" width="4.02" height="13.80" fill="#f7f7f7"/>
<rect x="285.70" y="447.20" width="4.02" height="13.20" fill="#f6dfd5"/>
<rect x="289.12" y="328.40" width="4.02" height="13.80" fill="#f7e7e0"/>
<rect x="289.12" y="341.60" width="4.02" height="13.80" fill="#f7e7e0"/>
<rect x="289.12" y="354.80" width="4.02" height="13.80" fill="#f7e7e0"/>
<rect x="289.12" y="368.00" width="4.02" height="13.80" fill="#f6dfd5"/>
<rect x="289.12" y="381.20" width="4.02" height="13.80" fill="#c9d9e8"/>
<rect x="289.12" y="394.40" width="4.02" height="13.80" fill="#b3cae0"/>
<rect x="289.12" y="407.60" width="4.02" height="13.80" fill="#c9d9e8"/>
<rect x="289.12" y="420.80" width="4.02" height="13.80" fill="#b3cae0"/>
<rect x="289.12" y="434.00" width="4.02" height="13.80" fill="#b3cae0"/>
<rect x="289.12" y="447.20" width="4.02" height="13.20" fill="#d5e0eb"/>
<rect x="292.54" y="328.40" width="4.02" height="13.80" fill="#f6c0a8"/>
<rect x="292.54" y="341.60" width="4.02" height="13.80" fill="#f5b89d"/>
<rect x="292.54" y="354.80" width="4.02" height="13.80" fill="#f6c0a8"/>
<rect x="292.54" y="368.00" width="4.02" height="13.80" fill="#f5b89d"/>
<rect x="292.54" y="381.20" width="4.02" height="13.80" fill="#bed1e4"/>
<rect x="292.54" y="394.40" width="4.02" height="13.80" fill="#f7f7f7"/>
<rect x="292.54" y="407.60" width="4.02" height="13.80" fill="#c9d9e8"/>
<rect x="292.54" y="420.80" width="4.02" height="13.80" fill="#d5e0eb"/>
<rect x="292.54" y="434.00" width="4.02" height="13.80" fill="#9cbbd8"/>
<rect x="292.54" y="447.20" width="4.02" height="13.20" fill="#d5e0eb"/>
<rect x="295.96" y="328.40" width="4.02" height="13.80" fill="#f5b89d"/>
<rect x="295.96" y="341.60" width="4.02" height="13.80" fill="#f6c0a8"/>
<rect x="295.96" y="354.80" width="4.02" height="13.80" fill="#f4a07e"/>
<rect x="295.96" y="368.00" width="4.02" height="13.80" fill="#f4a07e"/>
<rect x="295.96" y="381.20" width="4.02" height="13.80" fill="#bed1e4"/>
<rect x="295.96" y="394.40" width="4.02" height="13.80" fill="#d5e0eb"/>
<rect x="295.96" y="407.60" width="4.02" height="13.80" fill="#f7f7f7"/>
<rect x="295.96" y="420.80" width="4.02" height="13.80" fill="#f7f7f7"/>
<rect x="295.96" y="434.00" width="4.02" height="13.80" fill="#a7c2dc"/>
<rect x="295.96" y="447.20" width="4.02" height="13.20" fill="#d5e0eb"/>
<rect x="299.38" y="328.40" width="4.02" height="13.80" fill="#f6d7ca"/>
<rect x="299.38" y="341.60" width="4.02" height="13.80" fill="#f6d7ca"/>
<rect x="299.38" y="354.80" width="4.02" height="13.80" fill="#f6d7ca"/>
<rect x="299.38" y="368.00" width="4.02" height="13.80" fill="#f5b89d"/>
<rect x="299.38" y="381.20" width="4.02" height="13.80" fill="#b3cae0"/>
<rect x="299.38" y="394.40" width="4.02" height="13.80" fill="#eceff3"/>
<rect x="299.38" y="407.60" width="4.02" height="13.80" fill="#f7f7f7"/>
<rect x="299.38" y="420.80" width="4.02" height="13.80" fill="#bed1e4"/>
<rect x="299.38" y="434.00" width="4.02" height="13.80" fill="#bed1e4"/>
<rect x="299.38" y="447.20" width="4.02" height="13.20" fill="#f7f7f7"/>
<rect x="302.79" y="328.40" width="4.02" height="13.80" fill="#f6c8b3"/>
<rect x="302.79" y="341.60" width="4.02" height="13.80" fill="#f5b89d"/>
<rect x="302.79" y="354.80" width="4.02" height="13.80" fill="#f6c8b3"/>
<rect x="302.79" y="368.00" width="4.02" height="13.80" fill="#f6d0be"/>
<rect x="302.79" y="381.20" width="4.02" height="13.80" fill="#bed1e4"/>
<rect x="302.79" y="394.40" width="4.02" height="13.80" fill="#d5e0eb"/>
<rect x="302.79" y="407.60" width="4.02" height="13.80" fill="#d5e0eb"/>
<rect x="302.79" y="420.80" width="4.02" height="13.80" fill="#f7f7f7"/>
<rect x="302.79" y="434.00" width="4.02" height="13.80" fill="#f7f7f7"/>
<rect x="302.79" y="447.20" width="4.02" height="13.20" fill="#a7c2dc"/>
<rect x="306.21" y="328.40" width="4.02" height="13.80" fill="#f6c8b3"/>
<rect x="306.21" y="341.60" width="4.02" height="13.80" fill="#f6c8b3"/>
<rect x="306.21" y="354.80" width="4.02" height="13.80" fill="#f6c8b3"/>
<rect x="306.21" y="368.00" width="4.02" height="13.80" fill="#f6d7ca"/>
<rect x="306.21" y="381.20" width="4.02" height="13.80" fill="#b3cae0"/>
<rect x="306.21" y="394.40" width="4.02" height="13.80" fill="#d5e0eb"/>
<rect x="306.21" y="407.60" width="4.02" height="13.80" fill="#f7efec"/>
<rect x="306.21" y="420.80" width="4.02" height="13.80" fill="#c9d9e8"/>
<rect x="306.21" y="434.00" width="4.02" height="13.80" fill="#c9d9e8"/>
<rect x="306.21" y="447.20" width="4.02" height="13.20" fill="#b3cae0"/>
<rect x="309.63" y="328.40" width="4.02" height="13.80" fill="#f6d0be"/>
<rect x="309.63" y="341.60" width="4.02" height="13.80" fill="#f7e7e0"/>
<rect x="309.63" y="354.80" width="4.02" height="13.80" fill="#f6d0be"/>
<rect x="309.63" y="368.00" width="4.02" height="13.80" fill="#f6d0be"/>
<rect x="309.63" y="381.20" width="4.02" height="13.80" fill="#b3cae0"/>
<rect x="309.63" y="394.40" width="4.02" height="13.80" fill="#e0e8ef"/>
<rect x="309.63" y="407.60" width="4.02" height="13.80" fill="#f7f7f7"/>
<rect x="309.63" y="420.80" width="4.02" height="13.80" fill="#f7f7f7"/>
<rect x="309.63" y="434.00" width="4.02" height="13.80" fill="#c9d9e8"/>
<rect x="309.63" y="447.20" width="4.02" height="13.20" fill="#bed1e4"/>
<rect x="313.05" y="328.40" width="4.02" height="13.80" fill="#f6c8b3"/>
<rect x="313.05" y="341.60" width="4.02" height="13.80" fill="#f6c8b3"/>
<rect x="313.05" y="354.80" width="4.02" height="13.80" fill="#f6c0a8"/>
<rect x="313.05" y="368.00" width="4.02" height="13.80" fill="#f6d7ca"/>
<rect x="313.05" y="381.20" width="4.02" height="13.80" fill="#c9d9e8"/>
<rect x="313.05" y="394.40" width="4.02" height="13.80" fill="#f7f7f7"/>
<rect x="313.05" y="407.60" width="4.02" height="13.80" fill="#f7f7f7"/>
<rect x="313.05" y="420.80" width="4.02" height="13.80" fill="#f7efec"/>
<rect x="313.05" y="434.00" width="4.02" height="13.80" fill="#b3cae0"/>
<rect x="313.05" y="447.20" width="4.02" height="13.20" fill="#b3cae0"/>
<rect x="316.47" y="328.40" width="4.02" height="13.80" fill="#f4a07e"/>
<rect x="316.47" y="341.60" width="4.02" height="13.80" fill="#f6c0a8"/>
<rect x="316.47" y="354.80" width="4.02" height="13.80" fill="#f5b89d"/>
<rect x="316.47" y="368.00" width="4.02" height="13.80" fill="#f6c8b3"/>
<rect x="316.47" y="381.20" width="4.02" height="13.80" fill="#bed1e4"/>
<rect x="316.47" y="394.40" width="4.02" height="13.80" fill="#d5e0eb"/>
<rect x="316.47" y="407.60" width="4.02" height="13.80" fill="#9cbbd8"/>
<rect x="316.47" y="420.80" width="4.02" height="13.80" fill="#c9d9e8"/>
<rect x="316.47" y="434.00" width="4.02" height="13.80" fill="#c9d9e8"/>
<rect x="316.47" y="447.20" width="4.02" height="13.20" fill="#a7c2dc"/>
<rect x="319.88" y="328.40" width="4.02" height="13.80" fill="#f5b89d"/>
<rect x="319.88" y="341.60" width="4.02" height="13.80" fill="#f6c0a8"/>
<rect x="319.88" y="354.80" width="4.02" height="13.80" fill="#f5b89d"/>
<rect x="319.88" y="368.00" width="4.02" height="13.80" fill="#f6c8b3"/>
<rect x="319.88" y="381.20" width="4.02" height="13.80" fill="#73a4ce"/>
<rect x="319.88" y="394.40" width="4.02" height="13.80" fill="#8fb3d5"/>
<rect x="319.88" y="407.60" width="4.02" height="13.80" fill="#9cbbd8"/>
<rect x="319.88" y="420.80" width="4.02" height="13.80" fill="#c9d9e8"/>
<rect x="319.88" y="434.00" width="4.02" height="13.80" fill="#bed1e4"/>
<rect x="319.88" y="447.20" width="4.02" height="13.20" fill="#c9d9e8"/>
<rect x="323.30" y="328.40" width="4.02" height="13.80" fill="#f5b89d"/>
<rect x="323.30" y="341.60" width="4.02" height="13.80" fill="#f6c0a8"/>
<rect x="323.30" y="354.80" width="4.02" height="13.80" fill="#f5b89d"/>
<rect x="323.30" y="368.00" width="4.02" height="13.80" fill="#f6c8b3"/>
<rect x="323.30" y="381.20" width="4.02" height="13.80" fill="#9cbbd8"/>
<rect x="323.30" y="394.40" width="4.02" height="13.80" fill="#8fb3d5"/>
<rect x="323.30" y="407.60" width="4.02" height="13.80" fill="#9cbbd8"/>
<rect x="323.30" y="420.80" width="4.02" height="13.80" fill="#d5e0eb"/>
<rect x="323.30" y="434.00" width="4.02" height="13.80" fill="#c9d9e8"/>
<rect x="323.30" y="447.20" width="4.02" height="13.20" fill="#b3cae0"/>
<rect x="326.72" y="328.40" width="4.02" height="13.80" fill="#f6c0a8"/>
<rect x="326.72" y="341.60" width="4.02" height="13.80" fill="#f6d7ca"/>
<rect x="326.72" y="354.80" width="4.02" height="13.80" fill="#f6c0a8"/>
<rect x="326.72" y="368.00" width="4.02" height="13.80" fill="#f6d0be"/>
<rect x="326.72" y="381.20" width="4.02" height="13.80" fill="#bed1e4"/>
<rect x="326.72" y="394.40" width="4.02" height="13.80" fill="#d5e0eb"/>
<rect x="326.72" y="407.60" width="4.02" height="13.80" fill="#d5e0eb"/>
<rect x="326.72" y="420.80" width="4.02" height="13.80" fill="#d5e0eb"/>
<rect x="326.72" y="434.00" width="4.02" height="13.80" fill="#a7c2dc"/>
<rect x="326.72" y="447.20" width="4.02" height="13.20" fill="#c9d9e8"/>
<rect x="330.14" y="328.40" width="4.02" height="13.80" fill="#f5b89d"/>
<rect x="330.14" y="341.60" width="4.02" height="13.80" fill="#f6d7ca"/>
<rect x="330.14" y="354.80" width="4.02" height="13.80" fill="#f6c8b3"/>
<rect x="330.14" y="368.00" width="4.02" height="13.80" fill="#f6d7ca"/>
<rect x="330.14" y="381.20" width="4.02" height="13.80" fill="#b3cae0"/>
<rect x="330.14" y="394.40" width="4.02" height="13.80" fill="#bed1e4"/>
<rect x="330.14" y="407.60" width="4.02" height="13.80" fill="#c9d9e8"/>
<rect x="330.14" y="420.80" width="4.02" height="13.80" fill="#f7f7f7"/>
<rect x="330.14" y="434.00" width="4.02" height="13.80" fill="#bed1e4"/>
<rect x="330.14" y="447.20" width="4.02" height="13.20" fill="#b3cae0"/>
<rect x="333.56" y="328.40" width="4.02" height="13.80" fill="#f5b091"/>
<rect x="333.56" y="341.60" width="4.02" height="13.80" fill="#f5a886"/>
<rect x="333.56" y="354.80" width="4.02" height="13.80" fill="#f5a886"/>
<rect x="333.56" y="368.00" width="4.02" height="13.80" fill="#f5b091"/>
<rect x="333.56" y="381.20" width="4.02" height="13.80" fill="#81abd1"/>
<rect x="333.56" y="394.40" width="4.02" height="13.80" fill="#8fb3d5"/>
<rect x="333.56" y="407.60" width="4.02" height="13.80" fill="#9cbbd8"/>
<rect x="333.56" y="420.80" width="4.02" height="13.80" fill="#bed1e4"/>
<rect x="333.56" y="434.00" width="4.02" height="13.80" fill="#9cbbd8"/>
<rect x="333.56" y="447.20" width="4.02" height="13.20" fill="#b3cae0"/>
<rect x="336.97" y="328.40" width="4.02" height="13.80" fill="#f5a886"/>
<rect x="336.97" y="341.60" width="4.02" height="13.80" fill="#f5a886"/>
<rect x="336.97" y="354.80" width="4.02" height="13.80" fill="#f5a886"/>
<rect x="336.97" y="368.00" width="4.02" height="13.80" fill="#f5a886"/>
<rect x="336.97" y="381.20" width="4.02" height="13.80" fill="#81abd1"/>
<rect x="336.97" y="394.40" width="4.02" height="13.80" fill="#8fb3d5"/>
<rect x="336.97" y="407.60" width="4.02" height="13.80" fill="#8fb3d5"/>
<rect x="336.97" y="420.80" width="4.02" height="13.80" fill="#9cbbd8"/>
<rect x="336.97" y="434.00" width="4.02" height="13.80" fill="#a7c2dc"/>
<rect x="336.97" y="447.20" width="4.02" height="13.20" fill="#81abd1"/>
<rect x="340.39" y="328.40" width="4.02" height="13.80" fill="#f5b091"/>
<rect x="340.39" y="341.60" width="4.02" height="13.80" fill="#f5a886"/>
<rect x="340.39" y="354.80" width="4.02" height="13.80" fill="#f5b091"/>
<rect x="340.39" y="368.00" width="4.02" height="13.80" fill="#f5a886"/>
<rect x="340.39" y="381.20" width="4.02" height="13.80" fill="#81abd1"/>
<rect x="340.39" y="394.40" width="4.02" height="13.80" fill="#9cbbd8"/>
<rect x="340.39" y="407.60" width="4.02" height="13.80" fill="#9cbbd8"/>
<rect x="340.39" y="420.80" width="4.02" height="13.80" fill="#81abd1"/>
<rect x="340.39" y="434.00" width="4.02" height="13.80" fill="#bed1e4"/>
<rect x="340.39" y="447.20" width="4.02" height="13.20" fill="#81abd1"/>
<rect x="343.81" y="328.40" width="4.02" height="13.80" fill="#f6d0be"/>
<rect x="343.81" y="341.60" width="4.02" height="13.80" fill="#f5a886"/>
<rect x="343.81" y="354.80" width="4.02" height="13.80" fill="#f5a886"/>
<rect x="343.81" y="368.00" width="4.02" height="13.80" fill="#f5b091"/>
<rect x="343.81" y="381.20" width="4.02" height="13.80" fill="#81abd1"/>
<rect x="343.81" y="394.40" width="4.02" height="13.80" fill="#9cbbd8"/>
<rect x="343.81" y="407.60" width="4.02" height="13.80" fill="#8fb3d5"/>
<rect x="343.81" y="420.80" width="4.02" height="13.80" fill="#81abd1"/>
<rect x="343.81" y="434.00" width="4.02" height="13.80" fill="#bed1e4"/>
<rect x="343.81" y="447.20" width="4.02" height="13.20" fill="#81abd1"/>
<rect x="347.23" y="328.40" width="4.02" height="13.80" fill="#f5b091"/>
<rect x="347.23" y="341.60" width="4.02" height="13.80" fill="#f5a886"/>
<rect x="347.23" y="354.80" width="4.02" height="13.80" fill="#f5b091"/>
<rect x="347.23" y="368.00" width="4.02" height="13.80" fill="#f5b091"/>
<rect x="347.23" y="381.20" width="4.02" height="13.80" fill="#73a4ce"/>
<rect x="347.23" y="394.40" width="4.02" height="13.80" fill="#8fb3d5"/>
<rect x="347.23" y="407.60" width="4.02" height="13.80" fill="#8fb3d5"/>
<rect x="347.23" y="420.80" width="4.02" height="13.80" fill="#81abd1"/>
<rect x="347.23" y="434.00" width="4.02" height="13.80" fill="#9cbbd8"/>
<rect x="347.23" y="447.20" width="4.02" height="13.20" fill="#8fb3d5"/>
<rect x="350.65" y="328.40" width="4.02" height="13.80" fill="#f5b091"/>
<rect x="350.65" y="341.60" width="4.02" height="13.80" fill="#f5b091"/>
<rect x="350.65" y="354.80" width="4.02" height="13.80" fill="#f6c8b3"/>
<rect x="350.65" y="368.00" width="4.02" height="13.80" fill="#f6c8b3"/>
<rect x="350.65" y="381.20" width="4.02" height="13.80" fill="#73a4ce"/>
<rect x="350.65" y="394.40" width="4.02" height="13.80" fill="#8fb3d5"/>
<rect x="350.65" y="407.60" width="4.02" height="13.80" fill="#9cbbd8"/>
<rect x="350.65" y="420.80" width="4.02" height="13.80" fill="#b3cae0"/>
<rect x="350.65" y="434.00" width="4.02" height="13.80" fill="#8fb3d5"/>
<rect x="350.65" y="447.20" width="4.02" height="13.20" fill="#81abd1"/>
<rect x="354.06" y="328.40" width="4.02" height="13.80" fill="#f5b091"/>
<rect x="354.06" y="341.60" width="4.02" height="13.80" fill="#f5a886"/>
<rect x="354.06" y="354.80" width="4.02" height="13.80" fill="#f5b091"/>
<rect x="354.06" y="368.00" width="4.02" height="13.80" fill="#f5b091"/>
<rect x="354.06" y="381.20" width="4.02" height="13.80" fill="#659cca"/>
<rect x="354.06" y="394.40" width="4.02" height="13.80" fill="#81abd1"/>
<rect x="354.06" y="407.60" width="4.02" height="13.80" fill="#81abd1"/>
<rect x="354.06" y="420.80" width="4.02" height="13.80" fill="#b3cae0"/>
<rect x="354.06" y="434.00" width="4.02" height="13.80" fill="#8fb3d5"/>
<rect x="354.06" y="447.20" width="4.02" height="13.20" fill="#8fb3d5"/>
<rect x="357.48" y="328.40" width="3.42" height="13.80" fill="#f5b091"/>
<rect x="357.48" y="341.60" width="3.42" height="13.80" fill="#f5a886"/>
<rect x="357.48" y="354.80" width="3.42" height="13.80" fill="#f5b091"/>
<rect x="357.48" y="368.00" width="3.42" height="13.80" fill="#f5a886"/>
<rect x="357.48" y="381.20" width="3.42" height="13.80" fill="#5795c7"/>
<rect x="357.48" y="394.40" width="3.42" height="13.80" fill="#5795c7"/>
<rect x="357.48" y="407.60" width="3.42" height="13.80" fill="#81abd1"/>
<rect x="357.48" y="420.80" width="3.42" height="13.80" fill="#8fb3d5"/>
<rect x="357.48" y="434.00" width="3.42" height="13.80" fill="#81abd1"/>
<rect x="357.48" y="447.20" width="3.42" height="13.20" fill="#81abd1"/>
<path d="M17.6,348.2 L17.6,361.4 M17.6,348.2 L19.1,348.2 M17.6,361.4 L19.1,361.4 M16.6,354.79999999999995 L16.6,374.6 M16.6,354.79999999999995 L17.6,354.79999999999995 M16.6,374.6 L19.1,374.6 M15.5,335.0 L15.5,364.7 M15.5,335.0 L19.1,335.0 M15.5,364.7 L16.6,364.7 M17.8,401.0 L17.8,414.2 M17.8,401.0 L19.1,401.0 M17.8,414.2 L19.1,414.2 M17.8,427.4 L17.8,440.6 M17.8,427.4 L19.1,427.4 M17.8,440.6 L19.1,440.6 M16.8,407.6 L16.8,434.0 M16.8,407.6 L17.8,407.6 M16.8,434.0 L17.8,434.0 M16.2,387.8 L16.2,420.8 M16.2,387.8 L19.1,387.8 M16.2,420.8 L16.8,420.8 M15.5,404.3 L15.5,453.8 M15.5,404.3 L16.2,404.3 M15.5,453.8 L19.1,453.8 M10.7,349.85 L10.7,429.05 M10.7,349.85 L15.5,349.85 M10.7,429.05 L15.5,429.05 M19.6,321.3 L240,321.3 M64.6,320.3 L93.5,320.3 M178,320.5 L201,320.5 M240,321.8 L290,321.8 M290.5,321.0 L353,321.0 M132,317.9 L321.7,317.9 M132,317.9 L132,321.3 M321.7,317.9 L321.7,321.0" stroke="#9a9a9a" stroke-width="0.5" fill="none"/>
<text x="363.80" y="327.30" font-size="8.6" text-anchor="start" font-family="'Liberation Sans', Arial, sans-serif" fill="#111" font-weight="normal" >Group</text>
<text x="363.80" y="338.10" font-size="8.6" text-anchor="start" font-family="'Liberation Sans', Arial, sans-serif" fill="#111" font-weight="normal" >cg06469890</text>
<text x="363.80" y="351.30" font-size="8.6" text-anchor="start" font-family="'Liberation Sans', Arial, sans-serif" fill="#111" font-weight="normal" >cg11754974</text>
<text x="363.80" y="364.50" font-size="8.6" text-anchor="start" font-family="'Liberation Sans', Arial, sans-serif" fill="#111" font-weight="normal" >cg24905336</text>
<text x="363.80" y="377.70" font-size="8.6" text-anchor="start" font-family="'Liberation Sans', Arial, sans-serif" fill="#111" font-weight="normal" >cg22678228</text>
<text x="363.80" y="390.90" font-size="8.6" text-anchor="start" font-family="'Liberation Sans', Arial, sans-serif" fill="#111" font-weight="normal" >cg26026551</text>
<text x="363.80" y="404.10" font-size="8.6" text-anchor="start" font-family="'Liberation Sans', Arial, sans-serif" fill="#111" font-weight="normal" >cg09072601</text>
<text x="363.80" y="417.30" font-size="8.6" text-anchor="start" font-family="'Liberation Sans', Arial, sans-serif" fill="#111" font-weight="normal" >cg27077475</text>
<text x="363.80" y="430.50" font-size="8.6" text-anchor="start" font-family="'Liberation Sans', Arial, sans-serif" fill="#111" font-weight="normal" >cg00227790</text>
<text x="363.80" y="443.70" font-size="8.6" text-anchor="start" font-family="'Liberation Sans', Arial, sans-serif" fill="#111" font-weight="normal" >cg00613216</text>
<text x="363.80" y="456.90" font-size="8.6" text-anchor="start" font-family="'Liberation Sans', Arial, sans-serif" fill="#111" font-weight="normal" >cg17776881</text>
<text x="421.60" y="337.40" font-size="8.6" text-anchor="start" font-family="'Liberation Sans', Arial, sans-serif" fill="#111" font-weight="normal" >Row scaled</text>
<defs><linearGradient id="gcb" x1="0" y1="0" x2="0" y2="1"><stop offset="0" stop-color="#EC5A2E"/><stop offset="0.12" stop-color="#EF6E44"/><stop offset="0.3" stop-color="#F5A586"/><stop offset="0.5" stop-color="#F7F7F7"/><stop offset="0.7" stop-color="#A2C8E4"/><stop offset="0.88" stop-color="#3F8FC8"/><stop offset="1" stop-color="#1E7DBF"/></linearGradient></defs>
<rect x="424.4" y="342.8" width="8.9" height="51.2" fill="url(#gcb)"/>
<line x1="424.4" y1="345.4" x2="426" y2="345.4" stroke="#fff" stroke-width="0.6"/><line x1="431.7" y1="345.4" x2="433.3" y2="345.4" stroke="#fff" stroke-width="0.6"/>
<text x="435.50" y="348.50" font-size="8.6" text-anchor="start" font-family="'Liberation Sans', Arial, sans-serif" fill="#111" font-weight="normal" >4</text>
<line x1="424.4" y1="357" x2="426" y2="357" stroke="#fff" stroke-width="0.6"/><line x1="431.7" y1="357" x2="433.3" y2="357" stroke="#fff" stroke-width="0.6"/>
<text x="435.50" y="360.10" font-size="8.6" text-anchor="start" font-family="'Liberation Sans', Arial, sans-serif" fill="#111" font-weight="normal" >2</text>
<line x1="424.4" y1="368.2" x2="426" y2="368.2" stroke="#fff" stroke-width="0.6"/><line x1="431.7" y1="368.2" x2="433.3" y2="368.2" stroke="#fff" stroke-width="0.6"/>
<text x="435.50" y="371.30" font-size="8.6" text-anchor="start" font-family="'Liberation Sans', Arial, sans-serif" fill="#111" font-weight="normal" >0</text>
<line x1="424.4" y1="380.3" x2="426" y2="380.3" stroke="#fff" stroke-width="0.6"/><line x1="431.7" y1="380.3" x2="433.3" y2="380.3" stroke="#fff" stroke-width="0.6"/>
<text x="435.50" y="383.40" font-size="8.6" text-anchor="start" font-family="'Liberation Sans', Arial, sans-serif" fill="#111" font-weight="normal" >−2</text>
<line x1="424.4" y1="391.5" x2="426" y2="391.5" stroke="#fff" stroke-width="0.6"/><line x1="431.7" y1="391.5" x2="433.3" y2="391.5" stroke="#fff" stroke-width="0.6"/>
<text x="435.50" y="394.60" font-size="8.6" text-anchor="start" font-family="'Liberation Sans', Arial, sans-serif" fill="#111" font-weight="normal" >−4</text>
<text x="473.50" y="337.40" font-size="8.6" text-anchor="start" font-family="'Liberation Sans', Arial, sans-serif" fill="#111" font-weight="normal" >Group</text>
<rect x="474.3" y="345.0" width="8.8" height="5.0" fill="#2E86C1"/>
<text x="485.90" y="350.60" font-size="8.9" text-anchor="start" font-family="'Liberation Sans', Arial, sans-serif" fill="#111" font-weight="normal" >HC</text>
<rect x="474.3" y="358.3" width="8.8" height="5.0" fill="#E8643A"/>
<text x="485.90" y="363.50" font-size="8.9" text-anchor="start" font-family="'Liberation Sans', Arial, sans-serif" fill="#111" font-weight="normal" >CRC</text>
</svg></body></html>
